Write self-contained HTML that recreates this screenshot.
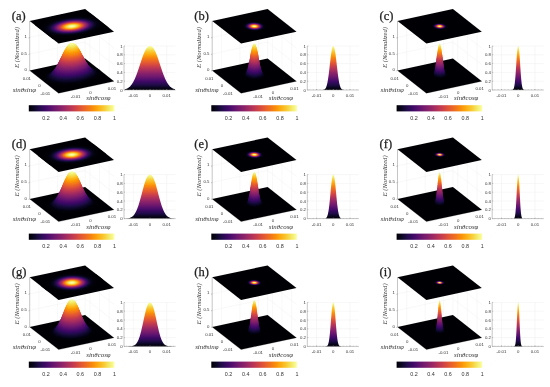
<!DOCTYPE html><html><head><meta charset="utf-8"><title>figure</title><style>html,body{margin:0;padding:0;background:#fff;}svg{display:block;}</style></head><body><svg width="550" height="387" viewBox="0 0 550 387"><defs><linearGradient id="cb" x1="0" y1="0" x2="1" y2="0"><stop offset="0" stop-color="#000004"/><stop offset="0.06" stop-color="#0b0724"/><stop offset="0.12" stop-color="#210c4a"/><stop offset="0.19" stop-color="#3d0965"/><stop offset="0.25" stop-color="#57106e"/><stop offset="0.31" stop-color="#71196e"/><stop offset="0.38" stop-color="#8a226a"/><stop offset="0.44" stop-color="#a32c61"/><stop offset="0.5" stop-color="#bc3754"/><stop offset="0.56" stop-color="#d24644"/><stop offset="0.62" stop-color="#e45a31"/><stop offset="0.69" stop-color="#f1731d"/><stop offset="0.75" stop-color="#f98e09"/><stop offset="0.81" stop-color="#fcac11"/><stop offset="0.88" stop-color="#f9cb35"/><stop offset="0.94" stop-color="#f2ea69"/><stop offset="1" stop-color="#fcffa4"/></linearGradient><clipPath id="usq00" clipPathUnits="userSpaceOnUse"><rect x="-62.5" y="-45.45" width="125" height="90.91"/></clipPath><clipPath id="usq01" clipPathUnits="userSpaceOnUse"><rect x="-43.48" y="-47.62" width="86.96" height="95.24"/></clipPath><clipPath id="usq02" clipPathUnits="userSpaceOnUse"><rect x="-41.67" y="-47.62" width="83.33" height="95.24"/></clipPath><clipPath id="usq10" clipPathUnits="userSpaceOnUse"><rect x="-55.56" y="-45.45" width="111.11" height="90.91"/></clipPath><clipPath id="usq11" clipPathUnits="userSpaceOnUse"><rect x="-43.48" y="-47.62" width="86.96" height="95.24"/></clipPath><clipPath id="usq12" clipPathUnits="userSpaceOnUse"><rect x="-41.67" y="-47.62" width="83.33" height="95.24"/></clipPath><clipPath id="usq20" clipPathUnits="userSpaceOnUse"><rect x="-50" y="-45.45" width="100" height="90.91"/></clipPath><clipPath id="usq21" clipPathUnits="userSpaceOnUse"><rect x="-43.48" y="-47.62" width="86.96" height="95.24"/></clipPath><clipPath id="usq22" clipPathUnits="userSpaceOnUse"><rect x="-41.67" y="-47.62" width="83.33" height="95.24"/></clipPath><radialGradient id="rg00" cx="0.5" cy="0.5" r="0.5"><stop offset="0" stop-color="#fcffa4"/><stop offset="0.04" stop-color="#f9fc9d"/><stop offset="0.08" stop-color="#f2f482"/><stop offset="0.12" stop-color="#f4dd4f"/><stop offset="0.17" stop-color="#fbba1f"/><stop offset="0.21" stop-color="#f98e09"/><stop offset="0.25" stop-color="#eb6429"/><stop offset="0.29" stop-color="#ce4347"/><stop offset="0.33" stop-color="#a82e5f"/><stop offset="0.38" stop-color="#82206c"/><stop offset="0.42" stop-color="#5f136e"/><stop offset="0.46" stop-color="#420a68"/><stop offset="0.5" stop-color="#280b53"/><stop offset="0.54" stop-color="#160b39"/><stop offset="0.58" stop-color="#0b0724"/><stop offset="0.62" stop-color="#050417"/><stop offset="0.67" stop-color="#02020e"/><stop offset="0.71" stop-color="#010108"/><stop offset="0.75" stop-color="#010106"/><stop offset="0.79" stop-color="#010005"/><stop offset="0.83" stop-color="#000004"/><stop offset="0.88" stop-color="#000004"/><stop offset="0.92" stop-color="#000004"/><stop offset="0.96" stop-color="#000004"/><stop offset="1" stop-color="#000004"/></radialGradient><clipPath id="ct00"><polygon points="29.7,20.93 58.6,43.58 114,31.63 85.1,8.98"/></clipPath><linearGradient id="g200" gradientUnits="userSpaceOnUse" x1="0" y1="90" x2="0" y2="46"><stop offset="0" stop-color="#000004"/><stop offset="0.06" stop-color="#0b0724"/><stop offset="0.12" stop-color="#210c4a"/><stop offset="0.19" stop-color="#3d0965"/><stop offset="0.25" stop-color="#57106e"/><stop offset="0.31" stop-color="#71196e"/><stop offset="0.38" stop-color="#8a226a"/><stop offset="0.44" stop-color="#a32c61"/><stop offset="0.5" stop-color="#bc3754"/><stop offset="0.56" stop-color="#d24644"/><stop offset="0.62" stop-color="#e45a31"/><stop offset="0.69" stop-color="#f1731d"/><stop offset="0.75" stop-color="#f98e09"/><stop offset="0.81" stop-color="#fcac11"/><stop offset="0.88" stop-color="#f9cb35"/><stop offset="0.94" stop-color="#f2ea69"/><stop offset="1" stop-color="#fcffa4"/></linearGradient><radialGradient id="rg01" cx="0.5" cy="0.5" r="0.5"><stop offset="0" stop-color="#fcffa4"/><stop offset="0.04" stop-color="#f9fc9d"/><stop offset="0.08" stop-color="#f2f482"/><stop offset="0.12" stop-color="#f4dd4f"/><stop offset="0.17" stop-color="#fbba1f"/><stop offset="0.21" stop-color="#f98e09"/><stop offset="0.25" stop-color="#eb6429"/><stop offset="0.29" stop-color="#ce4347"/><stop offset="0.33" stop-color="#a82e5f"/><stop offset="0.38" stop-color="#82206c"/><stop offset="0.42" stop-color="#5f136e"/><stop offset="0.46" stop-color="#420a68"/><stop offset="0.5" stop-color="#280b53"/><stop offset="0.54" stop-color="#160b39"/><stop offset="0.58" stop-color="#0b0724"/><stop offset="0.62" stop-color="#050417"/><stop offset="0.67" stop-color="#02020e"/><stop offset="0.71" stop-color="#010108"/><stop offset="0.75" stop-color="#010106"/><stop offset="0.79" stop-color="#010005"/><stop offset="0.83" stop-color="#000004"/><stop offset="0.88" stop-color="#000004"/><stop offset="0.92" stop-color="#000004"/><stop offset="0.96" stop-color="#000004"/><stop offset="1" stop-color="#000004"/></radialGradient><clipPath id="ct01"><polygon points="212.2,20.93 241.1,43.58 296.5,31.63 267.6,8.98"/></clipPath><linearGradient id="g201" gradientUnits="userSpaceOnUse" x1="0" y1="90" x2="0" y2="46"><stop offset="0" stop-color="#000004"/><stop offset="0.06" stop-color="#0b0724"/><stop offset="0.12" stop-color="#210c4a"/><stop offset="0.19" stop-color="#3d0965"/><stop offset="0.25" stop-color="#57106e"/><stop offset="0.31" stop-color="#71196e"/><stop offset="0.38" stop-color="#8a226a"/><stop offset="0.44" stop-color="#a32c61"/><stop offset="0.5" stop-color="#bc3754"/><stop offset="0.56" stop-color="#d24644"/><stop offset="0.62" stop-color="#e45a31"/><stop offset="0.69" stop-color="#f1731d"/><stop offset="0.75" stop-color="#f98e09"/><stop offset="0.81" stop-color="#fcac11"/><stop offset="0.88" stop-color="#f9cb35"/><stop offset="0.94" stop-color="#f2ea69"/><stop offset="1" stop-color="#fcffa4"/></linearGradient><radialGradient id="rg02" cx="0.5" cy="0.5" r="0.5"><stop offset="0" stop-color="#fcffa4"/><stop offset="0.04" stop-color="#f9fc9d"/><stop offset="0.08" stop-color="#f2f482"/><stop offset="0.12" stop-color="#f4dd4f"/><stop offset="0.17" stop-color="#fbba1f"/><stop offset="0.21" stop-color="#f98e09"/><stop offset="0.25" stop-color="#eb6429"/><stop offset="0.29" stop-color="#ce4347"/><stop offset="0.33" stop-color="#a82e5f"/><stop offset="0.38" stop-color="#82206c"/><stop offset="0.42" stop-color="#5f136e"/><stop offset="0.46" stop-color="#420a68"/><stop offset="0.5" stop-color="#280b53"/><stop offset="0.54" stop-color="#160b39"/><stop offset="0.58" stop-color="#0b0724"/><stop offset="0.62" stop-color="#050417"/><stop offset="0.67" stop-color="#02020e"/><stop offset="0.71" stop-color="#010108"/><stop offset="0.75" stop-color="#010106"/><stop offset="0.79" stop-color="#010005"/><stop offset="0.83" stop-color="#000004"/><stop offset="0.88" stop-color="#000004"/><stop offset="0.92" stop-color="#000004"/><stop offset="0.96" stop-color="#000004"/><stop offset="1" stop-color="#000004"/></radialGradient><clipPath id="ct02"><polygon points="397.5,20.93 426.4,43.58 481.8,31.63 452.9,8.98"/></clipPath><linearGradient id="g202" gradientUnits="userSpaceOnUse" x1="0" y1="90" x2="0" y2="46"><stop offset="0" stop-color="#000004"/><stop offset="0.06" stop-color="#0b0724"/><stop offset="0.12" stop-color="#210c4a"/><stop offset="0.19" stop-color="#3d0965"/><stop offset="0.25" stop-color="#57106e"/><stop offset="0.31" stop-color="#71196e"/><stop offset="0.38" stop-color="#8a226a"/><stop offset="0.44" stop-color="#a32c61"/><stop offset="0.5" stop-color="#bc3754"/><stop offset="0.56" stop-color="#d24644"/><stop offset="0.62" stop-color="#e45a31"/><stop offset="0.69" stop-color="#f1731d"/><stop offset="0.75" stop-color="#f98e09"/><stop offset="0.81" stop-color="#fcac11"/><stop offset="0.88" stop-color="#f9cb35"/><stop offset="0.94" stop-color="#f2ea69"/><stop offset="1" stop-color="#fcffa4"/></linearGradient><radialGradient id="rg10" cx="0.5" cy="0.5" r="0.5"><stop offset="0" stop-color="#fcffa4"/><stop offset="0.04" stop-color="#f9fc9d"/><stop offset="0.08" stop-color="#f2f482"/><stop offset="0.12" stop-color="#f4dd4f"/><stop offset="0.17" stop-color="#fbba1f"/><stop offset="0.21" stop-color="#f98e09"/><stop offset="0.25" stop-color="#eb6429"/><stop offset="0.29" stop-color="#ce4347"/><stop offset="0.33" stop-color="#a82e5f"/><stop offset="0.38" stop-color="#82206c"/><stop offset="0.42" stop-color="#5f136e"/><stop offset="0.46" stop-color="#420a68"/><stop offset="0.5" stop-color="#280b53"/><stop offset="0.54" stop-color="#160b39"/><stop offset="0.58" stop-color="#0b0724"/><stop offset="0.62" stop-color="#050417"/><stop offset="0.67" stop-color="#02020e"/><stop offset="0.71" stop-color="#010108"/><stop offset="0.75" stop-color="#010106"/><stop offset="0.79" stop-color="#010005"/><stop offset="0.83" stop-color="#000004"/><stop offset="0.88" stop-color="#000004"/><stop offset="0.92" stop-color="#000004"/><stop offset="0.96" stop-color="#000004"/><stop offset="1" stop-color="#000004"/></radialGradient><clipPath id="ct10"><polygon points="29.7,149.33 58.6,171.98 114,160.03 85.1,137.38"/></clipPath><linearGradient id="g210" gradientUnits="userSpaceOnUse" x1="0" y1="218.6" x2="0" y2="174.6"><stop offset="0" stop-color="#000004"/><stop offset="0.06" stop-color="#0b0724"/><stop offset="0.12" stop-color="#210c4a"/><stop offset="0.19" stop-color="#3d0965"/><stop offset="0.25" stop-color="#57106e"/><stop offset="0.31" stop-color="#71196e"/><stop offset="0.38" stop-color="#8a226a"/><stop offset="0.44" stop-color="#a32c61"/><stop offset="0.5" stop-color="#bc3754"/><stop offset="0.56" stop-color="#d24644"/><stop offset="0.62" stop-color="#e45a31"/><stop offset="0.69" stop-color="#f1731d"/><stop offset="0.75" stop-color="#f98e09"/><stop offset="0.81" stop-color="#fcac11"/><stop offset="0.88" stop-color="#f9cb35"/><stop offset="0.94" stop-color="#f2ea69"/><stop offset="1" stop-color="#fcffa4"/></linearGradient><radialGradient id="rg11" cx="0.5" cy="0.5" r="0.5"><stop offset="0" stop-color="#fcffa4"/><stop offset="0.04" stop-color="#f9fc9d"/><stop offset="0.08" stop-color="#f2f482"/><stop offset="0.12" stop-color="#f4dd4f"/><stop offset="0.17" stop-color="#fbba1f"/><stop offset="0.21" stop-color="#f98e09"/><stop offset="0.25" stop-color="#eb6429"/><stop offset="0.29" stop-color="#ce4347"/><stop offset="0.33" stop-color="#a82e5f"/><stop offset="0.38" stop-color="#82206c"/><stop offset="0.42" stop-color="#5f136e"/><stop offset="0.46" stop-color="#420a68"/><stop offset="0.5" stop-color="#280b53"/><stop offset="0.54" stop-color="#160b39"/><stop offset="0.58" stop-color="#0b0724"/><stop offset="0.62" stop-color="#050417"/><stop offset="0.67" stop-color="#02020e"/><stop offset="0.71" stop-color="#010108"/><stop offset="0.75" stop-color="#010106"/><stop offset="0.79" stop-color="#010005"/><stop offset="0.83" stop-color="#000004"/><stop offset="0.88" stop-color="#000004"/><stop offset="0.92" stop-color="#000004"/><stop offset="0.96" stop-color="#000004"/><stop offset="1" stop-color="#000004"/></radialGradient><clipPath id="ct11"><polygon points="212.2,149.33 241.1,171.98 296.5,160.03 267.6,137.38"/></clipPath><linearGradient id="g211" gradientUnits="userSpaceOnUse" x1="0" y1="218.6" x2="0" y2="174.6"><stop offset="0" stop-color="#000004"/><stop offset="0.06" stop-color="#0b0724"/><stop offset="0.12" stop-color="#210c4a"/><stop offset="0.19" stop-color="#3d0965"/><stop offset="0.25" stop-color="#57106e"/><stop offset="0.31" stop-color="#71196e"/><stop offset="0.38" stop-color="#8a226a"/><stop offset="0.44" stop-color="#a32c61"/><stop offset="0.5" stop-color="#bc3754"/><stop offset="0.56" stop-color="#d24644"/><stop offset="0.62" stop-color="#e45a31"/><stop offset="0.69" stop-color="#f1731d"/><stop offset="0.75" stop-color="#f98e09"/><stop offset="0.81" stop-color="#fcac11"/><stop offset="0.88" stop-color="#f9cb35"/><stop offset="0.94" stop-color="#f2ea69"/><stop offset="1" stop-color="#fcffa4"/></linearGradient><radialGradient id="rg12" cx="0.5" cy="0.5" r="0.5"><stop offset="0" stop-color="#fcffa4"/><stop offset="0.04" stop-color="#f9fc9d"/><stop offset="0.08" stop-color="#f2f482"/><stop offset="0.12" stop-color="#f4dd4f"/><stop offset="0.17" stop-color="#fbba1f"/><stop offset="0.21" stop-color="#f98e09"/><stop offset="0.25" stop-color="#eb6429"/><stop offset="0.29" stop-color="#ce4347"/><stop offset="0.33" stop-color="#a82e5f"/><stop offset="0.38" stop-color="#82206c"/><stop offset="0.42" stop-color="#5f136e"/><stop offset="0.46" stop-color="#420a68"/><stop offset="0.5" stop-color="#280b53"/><stop offset="0.54" stop-color="#160b39"/><stop offset="0.58" stop-color="#0b0724"/><stop offset="0.62" stop-color="#050417"/><stop offset="0.67" stop-color="#02020e"/><stop offset="0.71" stop-color="#010108"/><stop offset="0.75" stop-color="#010106"/><stop offset="0.79" stop-color="#010005"/><stop offset="0.83" stop-color="#000004"/><stop offset="0.88" stop-color="#000004"/><stop offset="0.92" stop-color="#000004"/><stop offset="0.96" stop-color="#000004"/><stop offset="1" stop-color="#000004"/></radialGradient><clipPath id="ct12"><polygon points="397.5,149.33 426.4,171.98 481.8,160.03 452.9,137.38"/></clipPath><linearGradient id="g212" gradientUnits="userSpaceOnUse" x1="0" y1="218.6" x2="0" y2="174.6"><stop offset="0" stop-color="#000004"/><stop offset="0.06" stop-color="#0b0724"/><stop offset="0.12" stop-color="#210c4a"/><stop offset="0.19" stop-color="#3d0965"/><stop offset="0.25" stop-color="#57106e"/><stop offset="0.31" stop-color="#71196e"/><stop offset="0.38" stop-color="#8a226a"/><stop offset="0.44" stop-color="#a32c61"/><stop offset="0.5" stop-color="#bc3754"/><stop offset="0.56" stop-color="#d24644"/><stop offset="0.62" stop-color="#e45a31"/><stop offset="0.69" stop-color="#f1731d"/><stop offset="0.75" stop-color="#f98e09"/><stop offset="0.81" stop-color="#fcac11"/><stop offset="0.88" stop-color="#f9cb35"/><stop offset="0.94" stop-color="#f2ea69"/><stop offset="1" stop-color="#fcffa4"/></linearGradient><radialGradient id="rg20" cx="0.5" cy="0.5" r="0.5"><stop offset="0" stop-color="#fcffa4"/><stop offset="0.04" stop-color="#f9fc9d"/><stop offset="0.08" stop-color="#f2f482"/><stop offset="0.12" stop-color="#f4dd4f"/><stop offset="0.17" stop-color="#fbba1f"/><stop offset="0.21" stop-color="#f98e09"/><stop offset="0.25" stop-color="#eb6429"/><stop offset="0.29" stop-color="#ce4347"/><stop offset="0.33" stop-color="#a82e5f"/><stop offset="0.38" stop-color="#82206c"/><stop offset="0.42" stop-color="#5f136e"/><stop offset="0.46" stop-color="#420a68"/><stop offset="0.5" stop-color="#280b53"/><stop offset="0.54" stop-color="#160b39"/><stop offset="0.58" stop-color="#0b0724"/><stop offset="0.62" stop-color="#050417"/><stop offset="0.67" stop-color="#02020e"/><stop offset="0.71" stop-color="#010108"/><stop offset="0.75" stop-color="#010106"/><stop offset="0.79" stop-color="#010005"/><stop offset="0.83" stop-color="#000004"/><stop offset="0.88" stop-color="#000004"/><stop offset="0.92" stop-color="#000004"/><stop offset="0.96" stop-color="#000004"/><stop offset="1" stop-color="#000004"/></radialGradient><clipPath id="ct20"><polygon points="29.7,277.33 58.6,299.98 114,288.03 85.1,265.38"/></clipPath><linearGradient id="g220" gradientUnits="userSpaceOnUse" x1="0" y1="346.4" x2="0" y2="302.4"><stop offset="0" stop-color="#000004"/><stop offset="0.06" stop-color="#0b0724"/><stop offset="0.12" stop-color="#210c4a"/><stop offset="0.19" stop-color="#3d0965"/><stop offset="0.25" stop-color="#57106e"/><stop offset="0.31" stop-color="#71196e"/><stop offset="0.38" stop-color="#8a226a"/><stop offset="0.44" stop-color="#a32c61"/><stop offset="0.5" stop-color="#bc3754"/><stop offset="0.56" stop-color="#d24644"/><stop offset="0.62" stop-color="#e45a31"/><stop offset="0.69" stop-color="#f1731d"/><stop offset="0.75" stop-color="#f98e09"/><stop offset="0.81" stop-color="#fcac11"/><stop offset="0.88" stop-color="#f9cb35"/><stop offset="0.94" stop-color="#f2ea69"/><stop offset="1" stop-color="#fcffa4"/></linearGradient><radialGradient id="rg21" cx="0.5" cy="0.5" r="0.5"><stop offset="0" stop-color="#fcffa4"/><stop offset="0.04" stop-color="#f9fc9d"/><stop offset="0.08" stop-color="#f2f482"/><stop offset="0.12" stop-color="#f4dd4f"/><stop offset="0.17" stop-color="#fbba1f"/><stop offset="0.21" stop-color="#f98e09"/><stop offset="0.25" stop-color="#eb6429"/><stop offset="0.29" stop-color="#ce4347"/><stop offset="0.33" stop-color="#a82e5f"/><stop offset="0.38" stop-color="#82206c"/><stop offset="0.42" stop-color="#5f136e"/><stop offset="0.46" stop-color="#420a68"/><stop offset="0.5" stop-color="#280b53"/><stop offset="0.54" stop-color="#160b39"/><stop offset="0.58" stop-color="#0b0724"/><stop offset="0.62" stop-color="#050417"/><stop offset="0.67" stop-color="#02020e"/><stop offset="0.71" stop-color="#010108"/><stop offset="0.75" stop-color="#010106"/><stop offset="0.79" stop-color="#010005"/><stop offset="0.83" stop-color="#000004"/><stop offset="0.88" stop-color="#000004"/><stop offset="0.92" stop-color="#000004"/><stop offset="0.96" stop-color="#000004"/><stop offset="1" stop-color="#000004"/></radialGradient><clipPath id="ct21"><polygon points="212.2,277.33 241.1,299.98 296.5,288.03 267.6,265.38"/></clipPath><linearGradient id="g221" gradientUnits="userSpaceOnUse" x1="0" y1="346.4" x2="0" y2="302.4"><stop offset="0" stop-color="#000004"/><stop offset="0.06" stop-color="#0b0724"/><stop offset="0.12" stop-color="#210c4a"/><stop offset="0.19" stop-color="#3d0965"/><stop offset="0.25" stop-color="#57106e"/><stop offset="0.31" stop-color="#71196e"/><stop offset="0.38" stop-color="#8a226a"/><stop offset="0.44" stop-color="#a32c61"/><stop offset="0.5" stop-color="#bc3754"/><stop offset="0.56" stop-color="#d24644"/><stop offset="0.62" stop-color="#e45a31"/><stop offset="0.69" stop-color="#f1731d"/><stop offset="0.75" stop-color="#f98e09"/><stop offset="0.81" stop-color="#fcac11"/><stop offset="0.88" stop-color="#f9cb35"/><stop offset="0.94" stop-color="#f2ea69"/><stop offset="1" stop-color="#fcffa4"/></linearGradient><radialGradient id="rg22" cx="0.5" cy="0.5" r="0.5"><stop offset="0" stop-color="#fcffa4"/><stop offset="0.04" stop-color="#f9fc9d"/><stop offset="0.08" stop-color="#f2f482"/><stop offset="0.12" stop-color="#f4dd4f"/><stop offset="0.17" stop-color="#fbba1f"/><stop offset="0.21" stop-color="#f98e09"/><stop offset="0.25" stop-color="#eb6429"/><stop offset="0.29" stop-color="#ce4347"/><stop offset="0.33" stop-color="#a82e5f"/><stop offset="0.38" stop-color="#82206c"/><stop offset="0.42" stop-color="#5f136e"/><stop offset="0.46" stop-color="#420a68"/><stop offset="0.5" stop-color="#280b53"/><stop offset="0.54" stop-color="#160b39"/><stop offset="0.58" stop-color="#0b0724"/><stop offset="0.62" stop-color="#050417"/><stop offset="0.67" stop-color="#02020e"/><stop offset="0.71" stop-color="#010108"/><stop offset="0.75" stop-color="#010106"/><stop offset="0.79" stop-color="#010005"/><stop offset="0.83" stop-color="#000004"/><stop offset="0.88" stop-color="#000004"/><stop offset="0.92" stop-color="#000004"/><stop offset="0.96" stop-color="#000004"/><stop offset="1" stop-color="#000004"/></radialGradient><clipPath id="ct22"><polygon points="397.5,277.33 426.4,299.98 481.8,288.03 452.9,265.38"/></clipPath><linearGradient id="g222" gradientUnits="userSpaceOnUse" x1="0" y1="346.4" x2="0" y2="302.4"><stop offset="0" stop-color="#000004"/><stop offset="0.06" stop-color="#0b0724"/><stop offset="0.12" stop-color="#210c4a"/><stop offset="0.19" stop-color="#3d0965"/><stop offset="0.25" stop-color="#57106e"/><stop offset="0.31" stop-color="#71196e"/><stop offset="0.38" stop-color="#8a226a"/><stop offset="0.44" stop-color="#a32c61"/><stop offset="0.5" stop-color="#bc3754"/><stop offset="0.56" stop-color="#d24644"/><stop offset="0.62" stop-color="#e45a31"/><stop offset="0.69" stop-color="#f1731d"/><stop offset="0.75" stop-color="#f98e09"/><stop offset="0.81" stop-color="#fcac11"/><stop offset="0.88" stop-color="#f9cb35"/><stop offset="0.94" stop-color="#f2ea69"/><stop offset="1" stop-color="#fcffa4"/></linearGradient></defs><rect width="550" height="387" fill="#fff"/><g><path d="M29.7,70.53L85.1,58.58M85.1,58.58L114,81.23M29.7,53.98L85.1,42.03M85.1,42.03L114,64.68M29.7,37.43L85.1,25.48M85.1,25.48L114,48.13M29.7,20.88L85.1,8.93M85.1,8.93L114,31.58M38.93,68.54L38.93,18.94M89.92,62.36L89.92,12.76M57.4,64.55L57.4,14.95M99.55,69.91L99.55,20.3M75.87,60.57L75.87,10.97M109.18,77.45L109.18,27.85M85.1,58.58L85.1,8.98" stroke="#f1f1f1" stroke-width="0.5" fill="none"/><path d="M29.7,20.93L29.7,70.53M29.7,70.53L58.6,93.18L114,81.23" stroke="#8a8a8a" stroke-width="0.5" fill="none"/><path d="M29.7,70.53L28.5,71.03M29.7,53.98L28.5,54.48M29.7,37.43L28.5,37.93" stroke="#8a8a8a" stroke-width="0.5" fill="none"/><polygon points="29.7,70.53 58.6,93.18 114,81.23 85.1,58.58" fill="#000004"/><g><circle r="45.31" transform="matrix(0.23 0.18 0.61 -0.13 71.85 75.59)" fill="#010106"/><circle r="40.17" transform="matrix(0.23 0.18 0.61 -0.13 71.85 75.01)" fill="#02020e"/><circle r="37.49" transform="matrix(0.23 0.18 0.61 -0.13 71.85 74.42)" fill="#060419"/><circle r="35.58" transform="matrix(0.23 0.18 0.61 -0.13 71.85 73.84)" fill="#0b0724"/><circle r="34.08" transform="matrix(0.23 0.18 0.61 -0.13 71.85 73.26)" fill="#10092d"/><circle r="32.82" transform="matrix(0.23 0.18 0.61 -0.13 71.85 72.68)" fill="#160b39"/><circle r="31.72" transform="matrix(0.23 0.18 0.61 -0.13 71.85 72.1)" fill="#1c0c43"/><circle r="30.75" transform="matrix(0.23 0.18 0.61 -0.13 71.85 71.51)" fill="#240c4f"/><circle r="29.86" transform="matrix(0.23 0.18 0.61 -0.13 71.85 70.93)" fill="#2b0b57"/><circle r="29.05" transform="matrix(0.23 0.18 0.61 -0.13 71.85 70.35)" fill="#340a5f"/><circle r="28.29" transform="matrix(0.23 0.18 0.61 -0.13 71.85 69.77)" fill="#3d0965"/><circle r="27.58" transform="matrix(0.23 0.18 0.61 -0.13 71.85 69.19)" fill="#440a68"/><circle r="26.91" transform="matrix(0.23 0.18 0.61 -0.13 71.85 68.6)" fill="#4c0c6b"/><circle r="26.27" transform="matrix(0.23 0.18 0.61 -0.13 71.85 68.02)" fill="#520e6d"/><circle r="25.67" transform="matrix(0.23 0.18 0.61 -0.13 71.85 67.44)" fill="#5a116e"/><circle r="25.08" transform="matrix(0.23 0.18 0.61 -0.13 71.85 66.86)" fill="#61136e"/><circle r="24.52" transform="matrix(0.23 0.18 0.61 -0.13 71.85 66.27)" fill="#69166e"/><circle r="23.98" transform="matrix(0.23 0.18 0.61 -0.13 71.85 65.69)" fill="#71196e"/><circle r="23.45" transform="matrix(0.23 0.18 0.61 -0.13 71.85 65.11)" fill="#771c6d"/><circle r="22.93" transform="matrix(0.23 0.18 0.61 -0.13 71.85 64.53)" fill="#7f1e6c"/><circle r="22.43" transform="matrix(0.23 0.18 0.61 -0.13 71.85 63.95)" fill="#85216b"/><circle r="21.94" transform="matrix(0.23 0.18 0.61 -0.13 71.85 63.36)" fill="#8d2369"/><circle r="21.46" transform="matrix(0.23 0.18 0.61 -0.13 71.85 62.78)" fill="#932667"/><circle r="20.99" transform="matrix(0.23 0.18 0.61 -0.13 71.85 62.2)" fill="#9b2964"/><circle r="20.53" transform="matrix(0.23 0.18 0.61 -0.13 71.85 61.62)" fill="#a32c61"/><circle r="20.07" transform="matrix(0.23 0.18 0.61 -0.13 71.85 61.04)" fill="#a92e5e"/><circle r="19.62" transform="matrix(0.23 0.18 0.61 -0.13 71.85 60.45)" fill="#b1325a"/><circle r="19.17" transform="matrix(0.23 0.18 0.61 -0.13 71.85 59.87)" fill="#b73557"/><circle r="18.73" transform="matrix(0.23 0.18 0.61 -0.13 71.85 59.29)" fill="#bf3952"/><circle r="18.29" transform="matrix(0.23 0.18 0.61 -0.13 71.85 58.71)" fill="#c43c4e"/><circle r="17.85" transform="matrix(0.23 0.18 0.61 -0.13 71.85 58.12)" fill="#cb4149"/><circle r="17.41" transform="matrix(0.23 0.18 0.61 -0.13 71.85 57.54)" fill="#d24644"/><circle r="16.97" transform="matrix(0.23 0.18 0.61 -0.13 71.85 56.96)" fill="#d74b3f"/><circle r="16.54" transform="matrix(0.23 0.18 0.61 -0.13 71.85 56.38)" fill="#dd513a"/><circle r="16.1" transform="matrix(0.23 0.18 0.61 -0.13 71.85 55.8)" fill="#e15635"/><circle r="15.66" transform="matrix(0.23 0.18 0.61 -0.13 71.85 55.21)" fill="#e65d2f"/><circle r="15.22" transform="matrix(0.23 0.18 0.61 -0.13 71.85 54.63)" fill="#ea632a"/><circle r="14.78" transform="matrix(0.23 0.18 0.61 -0.13 71.85 54.05)" fill="#ee6a24"/><circle r="14.33" transform="matrix(0.23 0.18 0.61 -0.13 71.85 53.47)" fill="#f1731d"/><circle r="13.87" transform="matrix(0.23 0.18 0.61 -0.13 71.85 52.89)" fill="#f47918"/><circle r="13.41" transform="matrix(0.23 0.18 0.61 -0.13 71.85 52.3)" fill="#f78212"/><circle r="12.94" transform="matrix(0.23 0.18 0.61 -0.13 71.85 51.72)" fill="#f8890c"/><circle r="12.47" transform="matrix(0.23 0.18 0.61 -0.13 71.85 51.14)" fill="#fa9207"/><circle r="11.98" transform="matrix(0.23 0.18 0.61 -0.13 71.85 50.56)" fill="#fb9906"/><circle r="11.47" transform="matrix(0.23 0.18 0.61 -0.13 71.85 49.97)" fill="#fca309"/><circle r="10.96" transform="matrix(0.23 0.18 0.61 -0.13 71.85 49.39)" fill="#fcac11"/><circle r="10.42" transform="matrix(0.23 0.18 0.61 -0.13 71.85 48.81)" fill="#fcb418"/><circle r="9.86" transform="matrix(0.23 0.18 0.61 -0.13 71.85 48.23)" fill="#fbbe23"/><circle r="9.27" transform="matrix(0.23 0.18 0.61 -0.13 71.85 47.65)" fill="#fac62d"/><circle r="8.65" transform="matrix(0.23 0.18 0.61 -0.13 71.85 47.06)" fill="#f8cf3a"/><circle r="7.98" transform="matrix(0.23 0.18 0.61 -0.13 71.85 46.48)" fill="#f6d746"/><circle r="7.25" transform="matrix(0.23 0.18 0.61 -0.13 71.85 45.9)" fill="#f4e156"/><circle r="6.44" transform="matrix(0.23 0.18 0.61 -0.13 71.85 45.32)" fill="#f2ea69"/><circle r="5.5" transform="matrix(0.23 0.18 0.61 -0.13 71.85 44.74)" fill="#f1f179"/><circle r="4.35" transform="matrix(0.23 0.18 0.61 -0.13 71.85 44.15)" fill="#f4f88e"/><circle r="2.63" transform="matrix(0.23 0.18 0.61 -0.13 71.85 43.57)" fill="#f9fc9d"/></g><polygon points="29.7,20.93 58.6,43.58 114,31.63 85.1,8.98" fill="#000004"/><g clip-path="url(#ct00)"><circle r="60.59" transform="matrix(0.23 0.18 0.61 -0.13 71.85 26.28)" fill="url(#rg00)"/></g><text x="27" y="71.13" font-size="4.3" font-family='"Liberation Sans", sans-serif' text-anchor="end" fill="#333">0</text><text x="27" y="54.58" font-size="4.3" font-family='"Liberation Sans", sans-serif' text-anchor="end" fill="#333">0.5</text><text x="27" y="38.03" font-size="4.3" font-family='"Liberation Sans", sans-serif' text-anchor="end" fill="#333">1</text><text x="31.02" y="79.5" font-size="4.3" font-family='"Liberation Sans", sans-serif' text-anchor="end" fill="#333">0.01</text><text x="40.65" y="87.05" font-size="4.3" font-family='"Liberation Sans", sans-serif' text-anchor="end" fill="#333">0</text><text x="50.28" y="94.6" font-size="4.3" font-family='"Liberation Sans", sans-serif' text-anchor="end" fill="#333">-0.01</text><text x="70.73" y="97.79" font-size="4.3" font-family='"Liberation Sans", sans-serif' text-anchor="start" fill="#333">-0.01</text><text x="89.2" y="93.8" font-size="4.3" font-family='"Liberation Sans", sans-serif' text-anchor="start" fill="#333">0</text><text x="107.67" y="89.82" font-size="4.3" font-family='"Liberation Sans", sans-serif' text-anchor="start" fill="#333">0.01</text><text x="12.7" y="92.3" font-size="5.6" font-family='"Liberation Serif", serif' text-anchor="start" fill="#333" font-style="italic" textLength="23.3" lengthAdjust="spacingAndGlyphs">sinθsinφ</text><text x="86.3" y="100.2" font-size="5.6" font-family='"Liberation Serif", serif' text-anchor="start" fill="#333" font-style="italic" textLength="24.3" lengthAdjust="spacingAndGlyphs">sinθcosφ</text><text transform="translate(18.8 47.5) rotate(-90)" font-size="6.2" font-family='"Liberation Serif", serif' font-style="italic" text-anchor="middle" textLength="41" lengthAdjust="spacingAndGlyphs" fill="#444">E (Normalized)</text><text x="11.8" y="19.8" font-size="12.5" font-family='"Liberation Serif", serif' text-anchor="start" fill="#222" stroke="#222" stroke-width="0.25">(a)</text><rect x="28.8" y="105.2" width="85.6" height="6.2" fill="url(#cb)"/><text x="46.1" y="119.5" font-size="5.4" font-family='"Liberation Sans", sans-serif' text-anchor="middle" fill="#333">0.2</text><text x="63.2" y="119.5" font-size="5.4" font-family='"Liberation Sans", sans-serif' text-anchor="middle" fill="#333">0.4</text><text x="80.3" y="119.5" font-size="5.4" font-family='"Liberation Sans", sans-serif' text-anchor="middle" fill="#333">0.6</text><text x="97.4" y="119.5" font-size="5.4" font-family='"Liberation Sans", sans-serif' text-anchor="middle" fill="#333">0.8</text><text x="114.5" y="119.5" font-size="5.4" font-family='"Liberation Sans", sans-serif' text-anchor="middle" fill="#333">1</text><path d="M133.3,90L133.3,46M150,90L150,46M166.7,90L166.7,46M124,81.2L175.6,81.2M124,72.4L175.6,72.4M124,63.6L175.6,63.6M124,54.8L175.6,54.8M124,46L175.6,46" stroke="#efefef" stroke-width="0.5" fill="none"/><path d="M125,90L125,89.27L125.25,89.2L125.5,89.13L125.75,89.05L126,88.96L126.25,88.87L126.5,88.77L126.75,88.66L127,88.55L127.25,88.43L127.5,88.29L127.75,88.15L128,88.01L128.25,87.85L128.5,87.68L128.75,87.5L129,87.3L129.25,87.1L129.5,86.89L129.75,86.66L130,86.42L130.25,86.16L130.5,85.9L130.75,85.62L131,85.32L131.25,85.01L131.5,84.68L131.75,84.34L132,83.98L132.25,83.61L132.5,83.22L132.75,82.81L133,82.39L133.25,81.95L133.5,81.49L133.75,81.01L134,80.52L134.25,80.01L134.5,79.49L134.75,78.95L135,78.39L135.25,77.81L135.5,77.22L135.75,76.61L136,75.99L136.25,75.35L136.5,74.7L136.75,74.04L137,73.36L137.25,72.67L137.5,71.97L137.75,71.25L138,70.53L138.25,69.8L138.5,69.06L138.75,68.31L139,67.56L139.25,66.8L139.5,66.04L139.75,65.28L140,64.51L140.25,63.75L140.5,62.98L140.75,62.22L141,61.46L141.25,60.71L141.5,59.96L141.75,59.23L142,58.5L142.25,57.78L142.5,57.07L142.75,56.38L143,55.7L143.25,55.04L143.5,54.39L143.75,53.76L144,53.15L144.25,52.57L144.5,52L144.75,51.45L145,50.93L145.25,50.43L145.5,49.96L145.75,49.51L146,49.09L146.25,48.69L146.5,48.32L146.75,47.98L147,47.67L147.25,47.38L147.5,47.12L147.75,46.89L148,46.69L148.25,46.52L148.5,46.37L148.75,46.25L149,46.15L149.25,46.08L149.5,46.03L149.75,46.01L150,46L150.25,46.01L150.5,46.03L150.75,46.08L151,46.15L151.25,46.25L151.5,46.37L151.75,46.52L152,46.69L152.25,46.89L152.5,47.12L152.75,47.38L153,47.67L153.25,47.98L153.5,48.32L153.75,48.69L154,49.09L154.25,49.51L154.5,49.96L154.75,50.43L155,50.93L155.25,51.45L155.5,52L155.75,52.57L156,53.15L156.25,53.76L156.5,54.39L156.75,55.04L157,55.7L157.25,56.38L157.5,57.07L157.75,57.78L158,58.5L158.25,59.23L158.5,59.96L158.75,60.71L159,61.46L159.25,62.22L159.5,62.98L159.75,63.75L160,64.51L160.25,65.28L160.5,66.04L160.75,66.8L161,67.56L161.25,68.31L161.5,69.06L161.75,69.8L162,70.53L162.25,71.25L162.5,71.97L162.75,72.67L163,73.36L163.25,74.04L163.5,74.7L163.75,75.35L164,75.99L164.25,76.61L164.5,77.22L164.75,77.81L165,78.39L165.25,78.95L165.5,79.49L165.75,80.01L166,80.52L166.25,81.01L166.5,81.49L166.75,81.95L167,82.39L167.25,82.81L167.5,83.22L167.75,83.61L168,83.98L168.25,84.34L168.5,84.68L168.75,85.01L169,85.32L169.25,85.62L169.5,85.9L169.75,86.16L170,86.42L170.25,86.66L170.5,86.89L170.75,87.1L171,87.3L171.25,87.5L171.5,87.68L171.75,87.85L172,88.01L172.25,88.15L172.5,88.29L172.75,88.43L173,88.55L173.25,88.66L173.5,88.77L173.75,88.87L174,88.96L174.25,89.05L174.5,89.13L174.75,89.2L175,89.27L175,90Z" fill="url(#g200)"/><path d="M124,46L124,90L175.6,90M124,90L125,90M124,81.2L125,81.2M124,72.4L125,72.4M124,63.6L125,63.6M124,54.8L125,54.8M124,46L125,46M133.3,90L133.3,89M150,90L150,89M166.7,90L166.7,89M126.62,90L126.62,89.4M129.96,90L129.96,89.4M133.3,90L133.3,89.4M136.64,90L136.64,89.4M139.98,90L139.98,89.4M143.32,90L143.32,89.4M146.66,90L146.66,89.4M150,90L150,89.4M153.34,90L153.34,89.4M156.68,90L156.68,89.4M160.02,90L160.02,89.4M163.36,90L163.36,89.4M166.7,90L166.7,89.4M170.04,90L170.04,89.4M173.38,90L173.38,89.4" stroke="#8c8c8c" stroke-width="0.5" fill="none"/><text x="122.7" y="91.6" font-size="4.3" font-family='"Liberation Sans", sans-serif' text-anchor="end" fill="#333">0</text><text x="122.7" y="82.8" font-size="4.3" font-family='"Liberation Sans", sans-serif' text-anchor="end" fill="#333">0.2</text><text x="122.7" y="74" font-size="4.3" font-family='"Liberation Sans", sans-serif' text-anchor="end" fill="#333">0.4</text><text x="122.7" y="65.2" font-size="4.3" font-family='"Liberation Sans", sans-serif' text-anchor="end" fill="#333">0.6</text><text x="122.7" y="56.4" font-size="4.3" font-family='"Liberation Sans", sans-serif' text-anchor="end" fill="#333">0.8</text><text x="122.7" y="47.6" font-size="4.3" font-family='"Liberation Sans", sans-serif' text-anchor="end" fill="#333">1</text><text x="133.3" y="97" font-size="4.3" font-family='"Liberation Sans", sans-serif' text-anchor="middle" fill="#333">-0.01</text><text x="150" y="97" font-size="4.3" font-family='"Liberation Sans", sans-serif' text-anchor="middle" fill="#333">0</text><text x="166.7" y="97" font-size="4.3" font-family='"Liberation Sans", sans-serif' text-anchor="middle" fill="#333">0.01</text></g><g><path d="M212.2,70.53L267.6,58.58M267.6,58.58L296.5,81.23M212.2,53.98L267.6,42.03M267.6,42.03L296.5,64.68M212.2,37.43L267.6,25.48M267.6,25.48L296.5,48.13M212.2,20.88L267.6,8.93M267.6,8.93L296.5,31.58M221.43,68.54L221.43,18.94M272.42,62.36L272.42,12.76M239.9,64.55L239.9,14.95M282.05,69.91L282.05,20.3M258.37,60.57L258.37,10.97M291.68,77.45L291.68,27.85M267.6,58.58L267.6,8.98" stroke="#f1f1f1" stroke-width="0.5" fill="none"/><path d="M212.2,20.93L212.2,70.53M212.2,70.53L241.1,93.18L296.5,81.23" stroke="#8a8a8a" stroke-width="0.5" fill="none"/><path d="M212.2,70.53L211,71.03M212.2,53.98L211,54.48M212.2,37.43L211,37.93" stroke="#8a8a8a" stroke-width="0.5" fill="none"/><polygon points="212.2,70.53 241.1,93.18 296.5,81.23 267.6,58.58" fill="#000004"/><g><circle r="16.84" transform="matrix(0.33 0.26 0.58 -0.13 254.35 75.59)" fill="#010106"/><circle r="14.93" transform="matrix(0.33 0.26 0.58 -0.13 254.35 75.01)" fill="#02020e"/><circle r="13.93" transform="matrix(0.33 0.26 0.58 -0.13 254.35 74.42)" fill="#060419"/><circle r="13.23" transform="matrix(0.33 0.26 0.58 -0.13 254.35 73.84)" fill="#0b0724"/><circle r="12.67" transform="matrix(0.33 0.26 0.58 -0.13 254.35 73.26)" fill="#10092d"/><circle r="12.2" transform="matrix(0.33 0.26 0.58 -0.13 254.35 72.68)" fill="#160b39"/><circle r="11.79" transform="matrix(0.33 0.26 0.58 -0.13 254.35 72.1)" fill="#1c0c43"/><circle r="11.43" transform="matrix(0.33 0.26 0.58 -0.13 254.35 71.51)" fill="#240c4f"/><circle r="11.1" transform="matrix(0.33 0.26 0.58 -0.13 254.35 70.93)" fill="#2b0b57"/><circle r="10.8" transform="matrix(0.33 0.26 0.58 -0.13 254.35 70.35)" fill="#340a5f"/><circle r="10.52" transform="matrix(0.33 0.26 0.58 -0.13 254.35 69.77)" fill="#3d0965"/><circle r="10.25" transform="matrix(0.33 0.26 0.58 -0.13 254.35 69.19)" fill="#440a68"/><circle r="10" transform="matrix(0.33 0.26 0.58 -0.13 254.35 68.6)" fill="#4c0c6b"/><circle r="9.77" transform="matrix(0.33 0.26 0.58 -0.13 254.35 68.02)" fill="#520e6d"/><circle r="9.54" transform="matrix(0.33 0.26 0.58 -0.13 254.35 67.44)" fill="#5a116e"/><circle r="9.32" transform="matrix(0.33 0.26 0.58 -0.13 254.35 66.86)" fill="#61136e"/><circle r="9.11" transform="matrix(0.33 0.26 0.58 -0.13 254.35 66.27)" fill="#69166e"/><circle r="8.91" transform="matrix(0.33 0.26 0.58 -0.13 254.35 65.69)" fill="#71196e"/><circle r="8.72" transform="matrix(0.33 0.26 0.58 -0.13 254.35 65.11)" fill="#771c6d"/><circle r="8.53" transform="matrix(0.33 0.26 0.58 -0.13 254.35 64.53)" fill="#7f1e6c"/><circle r="8.34" transform="matrix(0.33 0.26 0.58 -0.13 254.35 63.95)" fill="#85216b"/><circle r="8.16" transform="matrix(0.33 0.26 0.58 -0.13 254.35 63.36)" fill="#8d2369"/><circle r="7.98" transform="matrix(0.33 0.26 0.58 -0.13 254.35 62.78)" fill="#932667"/><circle r="7.8" transform="matrix(0.33 0.26 0.58 -0.13 254.35 62.2)" fill="#9b2964"/><circle r="7.63" transform="matrix(0.33 0.26 0.58 -0.13 254.35 61.62)" fill="#a32c61"/><circle r="7.46" transform="matrix(0.33 0.26 0.58 -0.13 254.35 61.04)" fill="#a92e5e"/><circle r="7.29" transform="matrix(0.33 0.26 0.58 -0.13 254.35 60.45)" fill="#b1325a"/><circle r="7.13" transform="matrix(0.33 0.26 0.58 -0.13 254.35 59.87)" fill="#b73557"/><circle r="6.96" transform="matrix(0.33 0.26 0.58 -0.13 254.35 59.29)" fill="#bf3952"/><circle r="6.8" transform="matrix(0.33 0.26 0.58 -0.13 254.35 58.71)" fill="#c43c4e"/><circle r="6.63" transform="matrix(0.33 0.26 0.58 -0.13 254.35 58.12)" fill="#cb4149"/><circle r="6.47" transform="matrix(0.33 0.26 0.58 -0.13 254.35 57.54)" fill="#d24644"/><circle r="6.31" transform="matrix(0.33 0.26 0.58 -0.13 254.35 56.96)" fill="#d74b3f"/><circle r="6.15" transform="matrix(0.33 0.26 0.58 -0.13 254.35 56.38)" fill="#dd513a"/><circle r="5.98" transform="matrix(0.33 0.26 0.58 -0.13 254.35 55.8)" fill="#e15635"/><circle r="5.82" transform="matrix(0.33 0.26 0.58 -0.13 254.35 55.21)" fill="#e65d2f"/><circle r="5.66" transform="matrix(0.33 0.26 0.58 -0.13 254.35 54.63)" fill="#ea632a"/><circle r="5.49" transform="matrix(0.33 0.26 0.58 -0.13 254.35 54.05)" fill="#ee6a24"/><circle r="5.33" transform="matrix(0.33 0.26 0.58 -0.13 254.35 53.47)" fill="#f1731d"/><circle r="5.16" transform="matrix(0.33 0.26 0.58 -0.13 254.35 52.89)" fill="#f47918"/><circle r="4.99" transform="matrix(0.33 0.26 0.58 -0.13 254.35 52.3)" fill="#f78212"/><circle r="4.81" transform="matrix(0.33 0.26 0.58 -0.13 254.35 51.72)" fill="#f8890c"/><circle r="4.63" transform="matrix(0.33 0.26 0.58 -0.13 254.35 51.14)" fill="#fa9207"/><circle r="4.45" transform="matrix(0.33 0.26 0.58 -0.13 254.35 50.56)" fill="#fb9906"/><circle r="4.26" transform="matrix(0.33 0.26 0.58 -0.13 254.35 49.97)" fill="#fca309"/><circle r="4.07" transform="matrix(0.33 0.26 0.58 -0.13 254.35 49.39)" fill="#fcac11"/><circle r="3.87" transform="matrix(0.33 0.26 0.58 -0.13 254.35 48.81)" fill="#fcb418"/><circle r="3.66" transform="matrix(0.33 0.26 0.58 -0.13 254.35 48.23)" fill="#fbbe23"/><circle r="3.45" transform="matrix(0.33 0.26 0.58 -0.13 254.35 47.65)" fill="#fac62d"/><circle r="3.21" transform="matrix(0.33 0.26 0.58 -0.13 254.35 47.06)" fill="#f8cf3a"/><circle r="2.97" transform="matrix(0.33 0.26 0.58 -0.13 254.35 46.48)" fill="#f6d746"/><circle r="2.7" transform="matrix(0.33 0.26 0.58 -0.13 254.35 45.9)" fill="#f4e156"/><circle r="2.39" transform="matrix(0.33 0.26 0.58 -0.13 254.35 45.32)" fill="#f2ea69"/><circle r="2.05" transform="matrix(0.33 0.26 0.58 -0.13 254.35 44.74)" fill="#f1f179"/><circle r="1.62" transform="matrix(0.33 0.26 0.58 -0.13 254.35 44.15)" fill="#f4f88e"/><circle r="0.98" transform="matrix(0.33 0.26 0.58 -0.13 254.35 43.57)" fill="#f9fc9d"/></g><polygon points="212.2,20.93 241.1,43.58 296.5,31.63 267.6,8.98" fill="#000004"/><g clip-path="url(#ct01)"><circle r="22.52" transform="matrix(0.33 0.26 0.58 -0.13 254.35 26.28)" fill="url(#rg01)"/></g><text x="209.5" y="71.13" font-size="4.3" font-family='"Liberation Sans", sans-serif' text-anchor="end" fill="#333">0</text><text x="209.5" y="54.58" font-size="4.3" font-family='"Liberation Sans", sans-serif' text-anchor="end" fill="#333">0.5</text><text x="209.5" y="38.03" font-size="4.3" font-family='"Liberation Sans", sans-serif' text-anchor="end" fill="#333">1</text><text x="213.52" y="79.5" font-size="4.3" font-family='"Liberation Sans", sans-serif' text-anchor="end" fill="#333">0.01</text><text x="223.15" y="87.05" font-size="4.3" font-family='"Liberation Sans", sans-serif' text-anchor="end" fill="#333">0</text><text x="232.78" y="94.6" font-size="4.3" font-family='"Liberation Sans", sans-serif' text-anchor="end" fill="#333">-0.01</text><text x="253.23" y="97.79" font-size="4.3" font-family='"Liberation Sans", sans-serif' text-anchor="start" fill="#333">-0.01</text><text x="271.7" y="93.8" font-size="4.3" font-family='"Liberation Sans", sans-serif' text-anchor="start" fill="#333">0</text><text x="290.17" y="89.82" font-size="4.3" font-family='"Liberation Sans", sans-serif' text-anchor="start" fill="#333">0.01</text><text x="195.2" y="92.3" font-size="5.6" font-family='"Liberation Serif", serif' text-anchor="start" fill="#333" font-style="italic" textLength="23.3" lengthAdjust="spacingAndGlyphs">sinθsinφ</text><text x="268.8" y="100.2" font-size="5.6" font-family='"Liberation Serif", serif' text-anchor="start" fill="#333" font-style="italic" textLength="24.3" lengthAdjust="spacingAndGlyphs">sinθcosφ</text><text transform="translate(201.3 47.5) rotate(-90)" font-size="6.2" font-family='"Liberation Serif", serif' font-style="italic" text-anchor="middle" textLength="41" lengthAdjust="spacingAndGlyphs" fill="#444">E (Normalized)</text><text x="194.3" y="19.8" font-size="12.5" font-family='"Liberation Serif", serif' text-anchor="start" fill="#222" stroke="#222" stroke-width="0.25">(b)</text><rect x="211.3" y="105.2" width="85.6" height="6.2" fill="url(#cb)"/><text x="228.6" y="119.5" font-size="5.4" font-family='"Liberation Sans", sans-serif' text-anchor="middle" fill="#333">0.2</text><text x="245.7" y="119.5" font-size="5.4" font-family='"Liberation Sans", sans-serif' text-anchor="middle" fill="#333">0.4</text><text x="262.8" y="119.5" font-size="5.4" font-family='"Liberation Sans", sans-serif' text-anchor="middle" fill="#333">0.6</text><text x="279.9" y="119.5" font-size="5.4" font-family='"Liberation Sans", sans-serif' text-anchor="middle" fill="#333">0.8</text><text x="297" y="119.5" font-size="5.4" font-family='"Liberation Sans", sans-serif' text-anchor="middle" fill="#333">1</text><path d="M316.6,90L316.6,46M333.3,90L333.3,46M350,90L350,46M307.3,81.2L358.9,81.2M307.3,72.4L358.9,72.4M307.3,63.6L358.9,63.6M307.3,54.8L358.9,54.8M307.3,46L358.9,46" stroke="#efefef" stroke-width="0.5" fill="none"/><path d="M308.3,90L308.3,90L308.55,90L308.8,90L309.05,90L309.3,90L309.55,90L309.8,90L310.05,90L310.3,90L310.55,90L310.8,90L311.05,90L311.3,90L311.55,90L311.8,90L312.05,90L312.3,90L312.55,90L312.8,90L313.05,90L313.3,90L313.55,90L313.8,90L314.05,90L314.3,90L314.55,90L314.8,90L315.05,90L315.3,90L315.55,90L315.8,90L316.05,90L316.3,90L316.55,90L316.8,90L317.05,90L317.3,90L317.55,90L317.8,90L318.05,90L318.3,90L318.55,90L318.8,90L319.05,90L319.3,90L319.55,90L319.8,90L320.05,90L320.3,90L320.55,90L320.8,90L321.05,89.99L321.3,89.99L321.55,89.99L321.8,89.98L322.05,89.97L322.3,89.96L322.55,89.95L322.8,89.93L323.05,89.9L323.3,89.86L323.55,89.81L323.8,89.74L324.05,89.65L324.3,89.53L324.55,89.39L324.8,89.2L325.05,88.97L325.3,88.68L325.55,88.33L325.8,87.9L326.05,87.39L326.3,86.78L326.55,86.06L326.8,85.23L327.05,84.27L327.3,83.17L327.55,81.93L327.8,80.55L328.05,79.03L328.3,77.36L328.55,75.56L328.8,73.64L329.05,71.61L329.3,69.49L329.55,67.31L329.8,65.1L330.05,62.87L330.3,60.67L330.55,58.52L330.8,56.46L331.05,54.52L331.3,52.74L331.55,51.13L331.8,49.72L332.05,48.52L332.3,47.56L332.55,46.84L332.8,46.34L333.05,46.08L333.3,46L333.55,46.08L333.8,46.34L334.05,46.84L334.3,47.56L334.55,48.52L334.8,49.72L335.05,51.13L335.3,52.74L335.55,54.52L335.8,56.46L336.05,58.52L336.3,60.67L336.55,62.87L336.8,65.1L337.05,67.31L337.3,69.49L337.55,71.61L337.8,73.64L338.05,75.56L338.3,77.36L338.55,79.03L338.8,80.55L339.05,81.93L339.3,83.17L339.55,84.27L339.8,85.23L340.05,86.06L340.3,86.78L340.55,87.39L340.8,87.9L341.05,88.33L341.3,88.68L341.55,88.97L341.8,89.2L342.05,89.39L342.3,89.53L342.55,89.65L342.8,89.74L343.05,89.81L343.3,89.86L343.55,89.9L343.8,89.93L344.05,89.95L344.3,89.96L344.55,89.97L344.8,89.98L345.05,89.99L345.3,89.99L345.55,89.99L345.8,90L346.05,90L346.3,90L346.55,90L346.8,90L347.05,90L347.3,90L347.55,90L347.8,90L348.05,90L348.3,90L348.55,90L348.8,90L349.05,90L349.3,90L349.55,90L349.8,90L350.05,90L350.3,90L350.55,90L350.8,90L351.05,90L351.3,90L351.55,90L351.8,90L352.05,90L352.3,90L352.55,90L352.8,90L353.05,90L353.3,90L353.55,90L353.8,90L354.05,90L354.3,90L354.55,90L354.8,90L355.05,90L355.3,90L355.55,90L355.8,90L356.05,90L356.3,90L356.55,90L356.8,90L357.05,90L357.3,90L357.55,90L357.8,90L358.05,90L358.3,90L358.3,90Z" fill="url(#g201)"/><path d="M307.3,46L307.3,90L358.9,90M307.3,90L308.3,90M307.3,81.2L308.3,81.2M307.3,72.4L308.3,72.4M307.3,63.6L308.3,63.6M307.3,54.8L308.3,54.8M307.3,46L308.3,46M316.6,90L316.6,89M333.3,90L333.3,89M350,90L350,89M309.92,90L309.92,89.4M313.26,90L313.26,89.4M316.6,90L316.6,89.4M319.94,90L319.94,89.4M323.28,90L323.28,89.4M326.62,90L326.62,89.4M329.96,90L329.96,89.4M333.3,90L333.3,89.4M336.64,90L336.64,89.4M339.98,90L339.98,89.4M343.32,90L343.32,89.4M346.66,90L346.66,89.4M350,90L350,89.4M353.34,90L353.34,89.4M356.68,90L356.68,89.4" stroke="#8c8c8c" stroke-width="0.5" fill="none"/><text x="306" y="91.6" font-size="4.3" font-family='"Liberation Sans", sans-serif' text-anchor="end" fill="#333">0</text><text x="306" y="82.8" font-size="4.3" font-family='"Liberation Sans", sans-serif' text-anchor="end" fill="#333">0.2</text><text x="306" y="74" font-size="4.3" font-family='"Liberation Sans", sans-serif' text-anchor="end" fill="#333">0.4</text><text x="306" y="65.2" font-size="4.3" font-family='"Liberation Sans", sans-serif' text-anchor="end" fill="#333">0.6</text><text x="306" y="56.4" font-size="4.3" font-family='"Liberation Sans", sans-serif' text-anchor="end" fill="#333">0.8</text><text x="306" y="47.6" font-size="4.3" font-family='"Liberation Sans", sans-serif' text-anchor="end" fill="#333">1</text><text x="316.6" y="97" font-size="4.3" font-family='"Liberation Sans", sans-serif' text-anchor="middle" fill="#333">-0.01</text><text x="333.3" y="97" font-size="4.3" font-family='"Liberation Sans", sans-serif' text-anchor="middle" fill="#333">0</text><text x="350" y="97" font-size="4.3" font-family='"Liberation Sans", sans-serif' text-anchor="middle" fill="#333">0.01</text></g><g><path d="M397.5,70.53L452.9,58.58M452.9,58.58L481.8,81.23M397.5,53.98L452.9,42.03M452.9,42.03L481.8,64.68M397.5,37.43L452.9,25.48M452.9,25.48L481.8,48.13M397.5,20.88L452.9,8.93M452.9,8.93L481.8,31.58M406.73,68.54L406.73,18.94M457.72,62.36L457.72,12.76M425.2,64.55L425.2,14.95M467.35,69.91L467.35,20.3M443.67,60.57L443.67,10.97M476.98,77.45L476.98,27.85M452.9,58.58L452.9,8.98" stroke="#f1f1f1" stroke-width="0.5" fill="none"/><path d="M397.5,20.93L397.5,70.53M397.5,70.53L426.4,93.18L481.8,81.23" stroke="#8a8a8a" stroke-width="0.5" fill="none"/><path d="M397.5,70.53L396.3,71.03M397.5,53.98L396.3,54.48M397.5,37.43L396.3,37.93" stroke="#8a8a8a" stroke-width="0.5" fill="none"/><polygon points="397.5,70.53 426.4,93.18 481.8,81.23 452.9,58.58" fill="#000004"/><g><circle r="11.34" transform="matrix(0.35 0.27 0.58 -0.13 439.65 75.59)" fill="#010106"/><circle r="10.05" transform="matrix(0.35 0.27 0.58 -0.13 439.65 75.01)" fill="#02020e"/><circle r="9.38" transform="matrix(0.35 0.27 0.58 -0.13 439.65 74.42)" fill="#060419"/><circle r="8.91" transform="matrix(0.35 0.27 0.58 -0.13 439.65 73.84)" fill="#0b0724"/><circle r="8.53" transform="matrix(0.35 0.27 0.58 -0.13 439.65 73.26)" fill="#10092d"/><circle r="8.21" transform="matrix(0.35 0.27 0.58 -0.13 439.65 72.68)" fill="#160b39"/><circle r="7.94" transform="matrix(0.35 0.27 0.58 -0.13 439.65 72.1)" fill="#1c0c43"/><circle r="7.69" transform="matrix(0.35 0.27 0.58 -0.13 439.65 71.51)" fill="#240c4f"/><circle r="7.47" transform="matrix(0.35 0.27 0.58 -0.13 439.65 70.93)" fill="#2b0b57"/><circle r="7.27" transform="matrix(0.35 0.27 0.58 -0.13 439.65 70.35)" fill="#340a5f"/><circle r="7.08" transform="matrix(0.35 0.27 0.58 -0.13 439.65 69.77)" fill="#3d0965"/><circle r="6.9" transform="matrix(0.35 0.27 0.58 -0.13 439.65 69.19)" fill="#440a68"/><circle r="6.73" transform="matrix(0.35 0.27 0.58 -0.13 439.65 68.6)" fill="#4c0c6b"/><circle r="6.58" transform="matrix(0.35 0.27 0.58 -0.13 439.65 68.02)" fill="#520e6d"/><circle r="6.42" transform="matrix(0.35 0.27 0.58 -0.13 439.65 67.44)" fill="#5a116e"/><circle r="6.28" transform="matrix(0.35 0.27 0.58 -0.13 439.65 66.86)" fill="#61136e"/><circle r="6.14" transform="matrix(0.35 0.27 0.58 -0.13 439.65 66.27)" fill="#69166e"/><circle r="6" transform="matrix(0.35 0.27 0.58 -0.13 439.65 65.69)" fill="#71196e"/><circle r="5.87" transform="matrix(0.35 0.27 0.58 -0.13 439.65 65.11)" fill="#771c6d"/><circle r="5.74" transform="matrix(0.35 0.27 0.58 -0.13 439.65 64.53)" fill="#7f1e6c"/><circle r="5.61" transform="matrix(0.35 0.27 0.58 -0.13 439.65 63.95)" fill="#85216b"/><circle r="5.49" transform="matrix(0.35 0.27 0.58 -0.13 439.65 63.36)" fill="#8d2369"/><circle r="5.37" transform="matrix(0.35 0.27 0.58 -0.13 439.65 62.78)" fill="#932667"/><circle r="5.25" transform="matrix(0.35 0.27 0.58 -0.13 439.65 62.2)" fill="#9b2964"/><circle r="5.14" transform="matrix(0.35 0.27 0.58 -0.13 439.65 61.62)" fill="#a32c61"/><circle r="5.02" transform="matrix(0.35 0.27 0.58 -0.13 439.65 61.04)" fill="#a92e5e"/><circle r="4.91" transform="matrix(0.35 0.27 0.58 -0.13 439.65 60.45)" fill="#b1325a"/><circle r="4.8" transform="matrix(0.35 0.27 0.58 -0.13 439.65 59.87)" fill="#b73557"/><circle r="4.69" transform="matrix(0.35 0.27 0.58 -0.13 439.65 59.29)" fill="#bf3952"/><circle r="4.58" transform="matrix(0.35 0.27 0.58 -0.13 439.65 58.71)" fill="#c43c4e"/><circle r="4.47" transform="matrix(0.35 0.27 0.58 -0.13 439.65 58.12)" fill="#cb4149"/><circle r="4.36" transform="matrix(0.35 0.27 0.58 -0.13 439.65 57.54)" fill="#d24644"/><circle r="4.25" transform="matrix(0.35 0.27 0.58 -0.13 439.65 56.96)" fill="#d74b3f"/><circle r="4.14" transform="matrix(0.35 0.27 0.58 -0.13 439.65 56.38)" fill="#dd513a"/><circle r="4.03" transform="matrix(0.35 0.27 0.58 -0.13 439.65 55.8)" fill="#e15635"/><circle r="3.92" transform="matrix(0.35 0.27 0.58 -0.13 439.65 55.21)" fill="#e65d2f"/><circle r="3.81" transform="matrix(0.35 0.27 0.58 -0.13 439.65 54.63)" fill="#ea632a"/><circle r="3.7" transform="matrix(0.35 0.27 0.58 -0.13 439.65 54.05)" fill="#ee6a24"/><circle r="3.59" transform="matrix(0.35 0.27 0.58 -0.13 439.65 53.47)" fill="#f1731d"/><circle r="3.47" transform="matrix(0.35 0.27 0.58 -0.13 439.65 52.89)" fill="#f47918"/><circle r="3.36" transform="matrix(0.35 0.27 0.58 -0.13 439.65 52.3)" fill="#f78212"/><circle r="3.24" transform="matrix(0.35 0.27 0.58 -0.13 439.65 51.72)" fill="#f8890c"/><circle r="3.12" transform="matrix(0.35 0.27 0.58 -0.13 439.65 51.14)" fill="#fa9207"/><circle r="3" transform="matrix(0.35 0.27 0.58 -0.13 439.65 50.56)" fill="#fb9906"/><circle r="2.87" transform="matrix(0.35 0.27 0.58 -0.13 439.65 49.97)" fill="#fca309"/><circle r="2.74" transform="matrix(0.35 0.27 0.58 -0.13 439.65 49.39)" fill="#fcac11"/><circle r="2.61" transform="matrix(0.35 0.27 0.58 -0.13 439.65 48.81)" fill="#fcb418"/><circle r="2.47" transform="matrix(0.35 0.27 0.58 -0.13 439.65 48.23)" fill="#fbbe23"/><circle r="2.32" transform="matrix(0.35 0.27 0.58 -0.13 439.65 47.65)" fill="#fac62d"/><circle r="2.16" transform="matrix(0.35 0.27 0.58 -0.13 439.65 47.06)" fill="#f8cf3a"/><circle r="2" transform="matrix(0.35 0.27 0.58 -0.13 439.65 46.48)" fill="#f6d746"/><circle r="1.81" transform="matrix(0.35 0.27 0.58 -0.13 439.65 45.9)" fill="#f4e156"/><circle r="1.61" transform="matrix(0.35 0.27 0.58 -0.13 439.65 45.32)" fill="#f2ea69"/><circle r="1.38" transform="matrix(0.35 0.27 0.58 -0.13 439.65 44.74)" fill="#f1f179"/><circle r="1.09" transform="matrix(0.35 0.27 0.58 -0.13 439.65 44.15)" fill="#f4f88e"/><circle r="0.66" transform="matrix(0.35 0.27 0.58 -0.13 439.65 43.57)" fill="#f9fc9d"/></g><polygon points="397.5,20.93 426.4,43.58 481.8,31.63 452.9,8.98" fill="#000004"/><g clip-path="url(#ct02)"><circle r="15.16" transform="matrix(0.35 0.27 0.58 -0.13 439.65 26.28)" fill="url(#rg02)"/></g><text x="394.8" y="71.13" font-size="4.3" font-family='"Liberation Sans", sans-serif' text-anchor="end" fill="#333">0</text><text x="394.8" y="54.58" font-size="4.3" font-family='"Liberation Sans", sans-serif' text-anchor="end" fill="#333">0.5</text><text x="394.8" y="38.03" font-size="4.3" font-family='"Liberation Sans", sans-serif' text-anchor="end" fill="#333">1</text><text x="398.82" y="79.5" font-size="4.3" font-family='"Liberation Sans", sans-serif' text-anchor="end" fill="#333">0.01</text><text x="408.45" y="87.05" font-size="4.3" font-family='"Liberation Sans", sans-serif' text-anchor="end" fill="#333">0</text><text x="418.08" y="94.6" font-size="4.3" font-family='"Liberation Sans", sans-serif' text-anchor="end" fill="#333">-0.01</text><text x="438.53" y="97.79" font-size="4.3" font-family='"Liberation Sans", sans-serif' text-anchor="start" fill="#333">-0.01</text><text x="457" y="93.8" font-size="4.3" font-family='"Liberation Sans", sans-serif' text-anchor="start" fill="#333">0</text><text x="475.47" y="89.82" font-size="4.3" font-family='"Liberation Sans", sans-serif' text-anchor="start" fill="#333">0.01</text><text x="380.5" y="92.3" font-size="5.6" font-family='"Liberation Serif", serif' text-anchor="start" fill="#333" font-style="italic" textLength="23.3" lengthAdjust="spacingAndGlyphs">sinθsinφ</text><text x="454.1" y="100.2" font-size="5.6" font-family='"Liberation Serif", serif' text-anchor="start" fill="#333" font-style="italic" textLength="24.3" lengthAdjust="spacingAndGlyphs">sinθcosφ</text><text transform="translate(386.6 47.5) rotate(-90)" font-size="6.2" font-family='"Liberation Serif", serif' font-style="italic" text-anchor="middle" textLength="41" lengthAdjust="spacingAndGlyphs" fill="#444">E (Normalized)</text><text x="379.6" y="19.8" font-size="12.5" font-family='"Liberation Serif", serif' text-anchor="start" fill="#222" stroke="#222" stroke-width="0.25">(c)</text><rect x="396.6" y="105.2" width="85.6" height="6.2" fill="url(#cb)"/><text x="413.9" y="119.5" font-size="5.4" font-family='"Liberation Sans", sans-serif' text-anchor="middle" fill="#333">0.2</text><text x="431" y="119.5" font-size="5.4" font-family='"Liberation Sans", sans-serif' text-anchor="middle" fill="#333">0.4</text><text x="448.1" y="119.5" font-size="5.4" font-family='"Liberation Sans", sans-serif' text-anchor="middle" fill="#333">0.6</text><text x="465.2" y="119.5" font-size="5.4" font-family='"Liberation Sans", sans-serif' text-anchor="middle" fill="#333">0.8</text><text x="482.3" y="119.5" font-size="5.4" font-family='"Liberation Sans", sans-serif' text-anchor="middle" fill="#333">1</text><path d="M501.5,90L501.5,46M518.2,90L518.2,46M534.9,90L534.9,46M492.2,81.2L543.8,81.2M492.2,72.4L543.8,72.4M492.2,63.6L543.8,63.6M492.2,54.8L543.8,54.8M492.2,46L543.8,46" stroke="#efefef" stroke-width="0.5" fill="none"/><path d="M493.2,90L493.2,90L493.45,90L493.7,90L493.95,90L494.2,90L494.45,90L494.7,90L494.95,90L495.2,90L495.45,90L495.7,90L495.95,90L496.2,90L496.45,90L496.7,90L496.95,90L497.2,90L497.45,90L497.7,90L497.95,90L498.2,90L498.45,90L498.7,90L498.95,90L499.2,90L499.45,90L499.7,90L499.95,90L500.2,90L500.45,90L500.7,90L500.95,90L501.2,90L501.45,90L501.7,90L501.95,90L502.2,90L502.45,90L502.7,90L502.95,90L503.2,90L503.45,90L503.7,90L503.95,90L504.2,90L504.45,90L504.7,90L504.95,90L505.2,90L505.45,90L505.7,90L505.95,90L506.2,90L506.45,90L506.7,90L506.95,90L507.2,90L507.45,90L507.7,90L507.95,90L508.2,90L508.45,90L508.7,90L508.95,90L509.2,90L509.45,90L509.7,90L509.95,90L510.2,90L510.45,90L510.7,90L510.95,90L511.2,89.99L511.45,89.99L511.7,89.98L511.95,89.96L512.2,89.92L512.45,89.86L512.7,89.76L512.95,89.61L513.2,89.36L513.45,89L513.7,88.47L513.95,87.73L514.2,86.71L514.45,85.37L514.7,83.64L514.95,81.49L515.2,78.9L515.45,75.89L515.7,72.51L515.95,68.83L516.2,64.98L516.45,61.11L516.7,57.4L516.95,54L517.2,51.09L517.45,48.78L517.7,47.16L517.95,46.26L518.2,46L518.45,46.26L518.7,47.16L518.95,48.78L519.2,51.09L519.45,54L519.7,57.4L519.95,61.11L520.2,64.98L520.45,68.83L520.7,72.51L520.95,75.89L521.2,78.9L521.45,81.49L521.7,83.64L521.95,85.37L522.2,86.71L522.45,87.73L522.7,88.47L522.95,89L523.2,89.36L523.45,89.61L523.7,89.76L523.95,89.86L524.2,89.92L524.45,89.96L524.7,89.98L524.95,89.99L525.2,89.99L525.45,90L525.7,90L525.95,90L526.2,90L526.45,90L526.7,90L526.95,90L527.2,90L527.45,90L527.7,90L527.95,90L528.2,90L528.45,90L528.7,90L528.95,90L529.2,90L529.45,90L529.7,90L529.95,90L530.2,90L530.45,90L530.7,90L530.95,90L531.2,90L531.45,90L531.7,90L531.95,90L532.2,90L532.45,90L532.7,90L532.95,90L533.2,90L533.45,90L533.7,90L533.95,90L534.2,90L534.45,90L534.7,90L534.95,90L535.2,90L535.45,90L535.7,90L535.95,90L536.2,90L536.45,90L536.7,90L536.95,90L537.2,90L537.45,90L537.7,90L537.95,90L538.2,90L538.45,90L538.7,90L538.95,90L539.2,90L539.45,90L539.7,90L539.95,90L540.2,90L540.45,90L540.7,90L540.95,90L541.2,90L541.45,90L541.7,90L541.95,90L542.2,90L542.45,90L542.7,90L542.95,90L543.2,90L543.2,90Z" fill="url(#g202)"/><path d="M492.2,46L492.2,90L543.8,90M492.2,90L493.2,90M492.2,81.2L493.2,81.2M492.2,72.4L493.2,72.4M492.2,63.6L493.2,63.6M492.2,54.8L493.2,54.8M492.2,46L493.2,46M501.5,90L501.5,89M518.2,90L518.2,89M534.9,90L534.9,89M494.82,90L494.82,89.4M498.16,90L498.16,89.4M501.5,90L501.5,89.4M504.84,90L504.84,89.4M508.18,90L508.18,89.4M511.52,90L511.52,89.4M514.86,90L514.86,89.4M518.2,90L518.2,89.4M521.54,90L521.54,89.4M524.88,90L524.88,89.4M528.22,90L528.22,89.4M531.56,90L531.56,89.4M534.9,90L534.9,89.4M538.24,90L538.24,89.4M541.58,90L541.58,89.4" stroke="#8c8c8c" stroke-width="0.5" fill="none"/><text x="490.9" y="91.6" font-size="4.3" font-family='"Liberation Sans", sans-serif' text-anchor="end" fill="#333">0</text><text x="490.9" y="82.8" font-size="4.3" font-family='"Liberation Sans", sans-serif' text-anchor="end" fill="#333">0.2</text><text x="490.9" y="74" font-size="4.3" font-family='"Liberation Sans", sans-serif' text-anchor="end" fill="#333">0.4</text><text x="490.9" y="65.2" font-size="4.3" font-family='"Liberation Sans", sans-serif' text-anchor="end" fill="#333">0.6</text><text x="490.9" y="56.4" font-size="4.3" font-family='"Liberation Sans", sans-serif' text-anchor="end" fill="#333">0.8</text><text x="490.9" y="47.6" font-size="4.3" font-family='"Liberation Sans", sans-serif' text-anchor="end" fill="#333">1</text><text x="501.5" y="97" font-size="4.3" font-family='"Liberation Sans", sans-serif' text-anchor="middle" fill="#333">-0.01</text><text x="518.2" y="97" font-size="4.3" font-family='"Liberation Sans", sans-serif' text-anchor="middle" fill="#333">0</text><text x="534.9" y="97" font-size="4.3" font-family='"Liberation Sans", sans-serif' text-anchor="middle" fill="#333">0.01</text></g><g><path d="M29.7,198.93L85.1,186.98M85.1,186.98L114,209.63M29.7,182.38L85.1,170.43M85.1,170.43L114,193.08M29.7,165.83L85.1,153.88M85.1,153.88L114,176.53M29.7,149.28L85.1,137.33M85.1,137.33L114,159.98M38.93,196.94L38.93,147.34M89.92,190.75L89.92,141.16M57.4,192.96L57.4,143.36M99.55,198.31L99.55,148.71M75.87,188.97L75.87,139.37M109.18,205.86L109.18,156.26M85.1,186.98L85.1,137.38" stroke="#f1f1f1" stroke-width="0.5" fill="none"/><path d="M29.7,149.33L29.7,198.93M29.7,198.93L58.6,221.58L114,209.63" stroke="#8a8a8a" stroke-width="0.5" fill="none"/><path d="M29.7,198.93L28.5,199.43M29.7,182.38L28.5,182.88M29.7,165.83L28.5,166.33" stroke="#8a8a8a" stroke-width="0.5" fill="none"/><polygon points="29.7,198.93 58.6,221.58 114,209.63 85.1,186.98" fill="#000004"/><g><circle r="38.77" transform="matrix(0.26 0.2 0.61 -0.13 71.85 203.99)" fill="#010106"/><circle r="34.37" transform="matrix(0.26 0.2 0.61 -0.13 71.85 203.41)" fill="#02020e"/><circle r="32.07" transform="matrix(0.26 0.2 0.61 -0.13 71.85 202.82)" fill="#060419"/><circle r="30.45" transform="matrix(0.26 0.2 0.61 -0.13 71.85 202.24)" fill="#0b0724"/><circle r="29.16" transform="matrix(0.26 0.2 0.61 -0.13 71.85 201.66)" fill="#10092d"/><circle r="28.08" transform="matrix(0.26 0.2 0.61 -0.13 71.85 201.08)" fill="#160b39"/><circle r="27.14" transform="matrix(0.26 0.2 0.61 -0.13 71.85 200.5)" fill="#1c0c43"/><circle r="26.31" transform="matrix(0.26 0.2 0.61 -0.13 71.85 199.91)" fill="#240c4f"/><circle r="25.55" transform="matrix(0.26 0.2 0.61 -0.13 71.85 199.33)" fill="#2b0b57"/><circle r="24.85" transform="matrix(0.26 0.2 0.61 -0.13 71.85 198.75)" fill="#340a5f"/><circle r="24.21" transform="matrix(0.26 0.2 0.61 -0.13 71.85 198.17)" fill="#3d0965"/><circle r="23.6" transform="matrix(0.26 0.2 0.61 -0.13 71.85 197.59)" fill="#440a68"/><circle r="23.03" transform="matrix(0.26 0.2 0.61 -0.13 71.85 197)" fill="#4c0c6b"/><circle r="22.48" transform="matrix(0.26 0.2 0.61 -0.13 71.85 196.42)" fill="#520e6d"/><circle r="21.96" transform="matrix(0.26 0.2 0.61 -0.13 71.85 195.84)" fill="#5a116e"/><circle r="21.46" transform="matrix(0.26 0.2 0.61 -0.13 71.85 195.26)" fill="#61136e"/><circle r="20.98" transform="matrix(0.26 0.2 0.61 -0.13 71.85 194.67)" fill="#69166e"/><circle r="20.51" transform="matrix(0.26 0.2 0.61 -0.13 71.85 194.09)" fill="#71196e"/><circle r="20.06" transform="matrix(0.26 0.2 0.61 -0.13 71.85 193.51)" fill="#771c6d"/><circle r="19.62" transform="matrix(0.26 0.2 0.61 -0.13 71.85 192.93)" fill="#7f1e6c"/><circle r="19.19" transform="matrix(0.26 0.2 0.61 -0.13 71.85 192.35)" fill="#85216b"/><circle r="18.78" transform="matrix(0.26 0.2 0.61 -0.13 71.85 191.76)" fill="#8d2369"/><circle r="18.37" transform="matrix(0.26 0.2 0.61 -0.13 71.85 191.18)" fill="#932667"/><circle r="17.96" transform="matrix(0.26 0.2 0.61 -0.13 71.85 190.6)" fill="#9b2964"/><circle r="17.56" transform="matrix(0.26 0.2 0.61 -0.13 71.85 190.02)" fill="#a32c61"/><circle r="17.17" transform="matrix(0.26 0.2 0.61 -0.13 71.85 189.44)" fill="#a92e5e"/><circle r="16.79" transform="matrix(0.26 0.2 0.61 -0.13 71.85 188.85)" fill="#b1325a"/><circle r="16.4" transform="matrix(0.26 0.2 0.61 -0.13 71.85 188.27)" fill="#b73557"/><circle r="16.02" transform="matrix(0.26 0.2 0.61 -0.13 71.85 187.69)" fill="#bf3952"/><circle r="15.65" transform="matrix(0.26 0.2 0.61 -0.13 71.85 187.11)" fill="#c43c4e"/><circle r="15.27" transform="matrix(0.26 0.2 0.61 -0.13 71.85 186.52)" fill="#cb4149"/><circle r="14.9" transform="matrix(0.26 0.2 0.61 -0.13 71.85 185.94)" fill="#d24644"/><circle r="14.52" transform="matrix(0.26 0.2 0.61 -0.13 71.85 185.36)" fill="#d74b3f"/><circle r="14.15" transform="matrix(0.26 0.2 0.61 -0.13 71.85 184.78)" fill="#dd513a"/><circle r="13.78" transform="matrix(0.26 0.2 0.61 -0.13 71.85 184.2)" fill="#e15635"/><circle r="13.4" transform="matrix(0.26 0.2 0.61 -0.13 71.85 183.61)" fill="#e65d2f"/><circle r="13.02" transform="matrix(0.26 0.2 0.61 -0.13 71.85 183.03)" fill="#ea632a"/><circle r="12.64" transform="matrix(0.26 0.2 0.61 -0.13 71.85 182.45)" fill="#ee6a24"/><circle r="12.26" transform="matrix(0.26 0.2 0.61 -0.13 71.85 181.87)" fill="#f1731d"/><circle r="11.87" transform="matrix(0.26 0.2 0.61 -0.13 71.85 181.29)" fill="#f47918"/><circle r="11.48" transform="matrix(0.26 0.2 0.61 -0.13 71.85 180.7)" fill="#f78212"/><circle r="11.07" transform="matrix(0.26 0.2 0.61 -0.13 71.85 180.12)" fill="#f8890c"/><circle r="10.67" transform="matrix(0.26 0.2 0.61 -0.13 71.85 179.54)" fill="#fa9207"/><circle r="10.25" transform="matrix(0.26 0.2 0.61 -0.13 71.85 178.96)" fill="#fb9906"/><circle r="9.82" transform="matrix(0.26 0.2 0.61 -0.13 71.85 178.37)" fill="#fca309"/><circle r="9.37" transform="matrix(0.26 0.2 0.61 -0.13 71.85 177.79)" fill="#fcac11"/><circle r="8.91" transform="matrix(0.26 0.2 0.61 -0.13 71.85 177.21)" fill="#fcb418"/><circle r="8.43" transform="matrix(0.26 0.2 0.61 -0.13 71.85 176.63)" fill="#fbbe23"/><circle r="7.93" transform="matrix(0.26 0.2 0.61 -0.13 71.85 176.05)" fill="#fac62d"/><circle r="7.4" transform="matrix(0.26 0.2 0.61 -0.13 71.85 175.46)" fill="#f8cf3a"/><circle r="6.83" transform="matrix(0.26 0.2 0.61 -0.13 71.85 174.88)" fill="#f6d746"/><circle r="6.2" transform="matrix(0.26 0.2 0.61 -0.13 71.85 174.3)" fill="#f4e156"/><circle r="5.51" transform="matrix(0.26 0.2 0.61 -0.13 71.85 173.72)" fill="#f2ea69"/><circle r="4.71" transform="matrix(0.26 0.2 0.61 -0.13 71.85 173.14)" fill="#f1f179"/><circle r="3.72" transform="matrix(0.26 0.2 0.61 -0.13 71.85 172.55)" fill="#f4f88e"/><circle r="2.25" transform="matrix(0.26 0.2 0.61 -0.13 71.85 171.97)" fill="#f9fc9d"/></g><polygon points="29.7,149.33 58.6,171.98 114,160.03 85.1,137.38" fill="#000004"/><g clip-path="url(#ct10)"><circle r="51.84" transform="matrix(0.26 0.2 0.61 -0.13 71.85 154.68)" fill="url(#rg10)"/></g><text x="27" y="199.53" font-size="4.3" font-family='"Liberation Sans", sans-serif' text-anchor="end" fill="#333">0</text><text x="27" y="182.98" font-size="4.3" font-family='"Liberation Sans", sans-serif' text-anchor="end" fill="#333">0.5</text><text x="27" y="166.43" font-size="4.3" font-family='"Liberation Sans", sans-serif' text-anchor="end" fill="#333">1</text><text x="31.02" y="207.9" font-size="4.3" font-family='"Liberation Sans", sans-serif' text-anchor="end" fill="#333">0.01</text><text x="40.65" y="215.45" font-size="4.3" font-family='"Liberation Sans", sans-serif' text-anchor="end" fill="#333">0</text><text x="50.28" y="223" font-size="4.3" font-family='"Liberation Sans", sans-serif' text-anchor="end" fill="#333">-0.01</text><text x="70.73" y="226.19" font-size="4.3" font-family='"Liberation Sans", sans-serif' text-anchor="start" fill="#333">-0.01</text><text x="89.2" y="222.2" font-size="4.3" font-family='"Liberation Sans", sans-serif' text-anchor="start" fill="#333">0</text><text x="107.67" y="218.22" font-size="4.3" font-family='"Liberation Sans", sans-serif' text-anchor="start" fill="#333">0.01</text><text x="12.7" y="220.7" font-size="5.6" font-family='"Liberation Serif", serif' text-anchor="start" fill="#333" font-style="italic" textLength="23.3" lengthAdjust="spacingAndGlyphs">sinθsinφ</text><text x="86.3" y="228.6" font-size="5.6" font-family='"Liberation Serif", serif' text-anchor="start" fill="#333" font-style="italic" textLength="24.3" lengthAdjust="spacingAndGlyphs">sinθcosφ</text><text transform="translate(18.8 175.9) rotate(-90)" font-size="6.2" font-family='"Liberation Serif", serif' font-style="italic" text-anchor="middle" textLength="41" lengthAdjust="spacingAndGlyphs" fill="#444">E (Normalized)</text><text x="11.8" y="148.2" font-size="12.5" font-family='"Liberation Serif", serif' text-anchor="start" fill="#222" stroke="#222" stroke-width="0.25">(d)</text><rect x="28.8" y="233.6" width="85.6" height="6.2" fill="url(#cb)"/><text x="46.1" y="247.9" font-size="5.4" font-family='"Liberation Sans", sans-serif' text-anchor="middle" fill="#333">0.2</text><text x="63.2" y="247.9" font-size="5.4" font-family='"Liberation Sans", sans-serif' text-anchor="middle" fill="#333">0.4</text><text x="80.3" y="247.9" font-size="5.4" font-family='"Liberation Sans", sans-serif' text-anchor="middle" fill="#333">0.6</text><text x="97.4" y="247.9" font-size="5.4" font-family='"Liberation Sans", sans-serif' text-anchor="middle" fill="#333">0.8</text><text x="114.5" y="247.9" font-size="5.4" font-family='"Liberation Sans", sans-serif' text-anchor="middle" fill="#333">1</text><path d="M133.3,218.6L133.3,174.6M150,218.6L150,174.6M166.7,218.6L166.7,174.6M124,209.8L175.6,209.8M124,201L175.6,201M124,192.2L175.6,192.2M124,183.4L175.6,183.4M124,174.6L175.6,174.6" stroke="#efefef" stroke-width="0.5" fill="none"/><path d="M125,218.6L125,218.54L125.25,218.53L125.5,218.52L125.75,218.5L126,218.49L126.25,218.47L126.5,218.46L126.75,218.43L127,218.41L127.25,218.39L127.5,218.36L127.75,218.32L128,218.29L128.25,218.25L128.5,218.2L128.75,218.15L129,218.09L129.25,218.03L129.5,217.96L129.75,217.89L130,217.8L130.25,217.71L130.5,217.61L130.75,217.5L131,217.37L131.25,217.24L131.5,217.1L131.75,216.94L132,216.77L132.25,216.58L132.5,216.38L132.75,216.17L133,215.93L133.25,215.68L133.5,215.41L133.75,215.13L134,214.82L134.25,214.49L134.5,214.14L134.75,213.76L135,213.36L135.25,212.94L135.5,212.5L135.75,212.03L136,211.53L136.25,211.01L136.5,210.47L136.75,209.9L137,209.3L137.25,208.67L137.5,208.02L137.75,207.35L138,206.64L138.25,205.92L138.5,205.17L138.75,204.39L139,203.6L139.25,202.78L139.5,201.94L139.75,201.08L140,200.21L140.25,199.32L140.5,198.42L140.75,197.5L141,196.57L141.25,195.64L141.5,194.7L141.75,193.75L142,192.8L142.25,191.86L142.5,190.92L142.75,189.98L143,189.05L143.25,188.13L143.5,187.22L143.75,186.34L144,185.46L144.25,184.61L144.5,183.79L144.75,182.98L145,182.21L145.25,181.46L145.5,180.75L145.75,180.07L146,179.43L146.25,178.82L146.5,178.25L146.75,177.72L147,177.23L147.25,176.79L147.5,176.38L147.75,176.02L148,175.7L148.25,175.42L148.5,175.19L148.75,174.99L149,174.84L149.25,174.73L149.5,174.65L149.75,174.61L150,174.6L150.25,174.61L150.5,174.65L150.75,174.73L151,174.84L151.25,174.99L151.5,175.19L151.75,175.42L152,175.7L152.25,176.02L152.5,176.38L152.75,176.79L153,177.23L153.25,177.72L153.5,178.25L153.75,178.82L154,179.43L154.25,180.07L154.5,180.75L154.75,181.46L155,182.21L155.25,182.98L155.5,183.79L155.75,184.61L156,185.46L156.25,186.34L156.5,187.22L156.75,188.13L157,189.05L157.25,189.98L157.5,190.92L157.75,191.86L158,192.8L158.25,193.75L158.5,194.7L158.75,195.64L159,196.57L159.25,197.5L159.5,198.42L159.75,199.32L160,200.21L160.25,201.08L160.5,201.94L160.75,202.78L161,203.6L161.25,204.39L161.5,205.17L161.75,205.92L162,206.64L162.25,207.35L162.5,208.02L162.75,208.67L163,209.3L163.25,209.9L163.5,210.47L163.75,211.01L164,211.53L164.25,212.03L164.5,212.5L164.75,212.94L165,213.36L165.25,213.76L165.5,214.14L165.75,214.49L166,214.82L166.25,215.13L166.5,215.41L166.75,215.68L167,215.93L167.25,216.17L167.5,216.38L167.75,216.58L168,216.77L168.25,216.94L168.5,217.1L168.75,217.24L169,217.37L169.25,217.5L169.5,217.61L169.75,217.71L170,217.8L170.25,217.89L170.5,217.96L170.75,218.03L171,218.09L171.25,218.15L171.5,218.2L171.75,218.25L172,218.29L172.25,218.32L172.5,218.36L172.75,218.39L173,218.41L173.25,218.43L173.5,218.46L173.75,218.47L174,218.49L174.25,218.5L174.5,218.52L174.75,218.53L175,218.54L175,218.6Z" fill="url(#g210)"/><path d="M124,174.6L124,218.6L175.6,218.6M124,218.6L125,218.6M124,209.8L125,209.8M124,201L125,201M124,192.2L125,192.2M124,183.4L125,183.4M124,174.6L125,174.6M133.3,218.6L133.3,217.6M150,218.6L150,217.6M166.7,218.6L166.7,217.6M126.62,218.6L126.62,218M129.96,218.6L129.96,218M133.3,218.6L133.3,218M136.64,218.6L136.64,218M139.98,218.6L139.98,218M143.32,218.6L143.32,218M146.66,218.6L146.66,218M150,218.6L150,218M153.34,218.6L153.34,218M156.68,218.6L156.68,218M160.02,218.6L160.02,218M163.36,218.6L163.36,218M166.7,218.6L166.7,218M170.04,218.6L170.04,218M173.38,218.6L173.38,218" stroke="#8c8c8c" stroke-width="0.5" fill="none"/><text x="122.7" y="220.2" font-size="4.3" font-family='"Liberation Sans", sans-serif' text-anchor="end" fill="#333">0</text><text x="122.7" y="211.4" font-size="4.3" font-family='"Liberation Sans", sans-serif' text-anchor="end" fill="#333">0.2</text><text x="122.7" y="202.6" font-size="4.3" font-family='"Liberation Sans", sans-serif' text-anchor="end" fill="#333">0.4</text><text x="122.7" y="193.8" font-size="4.3" font-family='"Liberation Sans", sans-serif' text-anchor="end" fill="#333">0.6</text><text x="122.7" y="185" font-size="4.3" font-family='"Liberation Sans", sans-serif' text-anchor="end" fill="#333">0.8</text><text x="122.7" y="176.2" font-size="4.3" font-family='"Liberation Sans", sans-serif' text-anchor="end" fill="#333">1</text><text x="133.3" y="225.6" font-size="4.3" font-family='"Liberation Sans", sans-serif' text-anchor="middle" fill="#333">-0.01</text><text x="150" y="225.6" font-size="4.3" font-family='"Liberation Sans", sans-serif' text-anchor="middle" fill="#333">0</text><text x="166.7" y="225.6" font-size="4.3" font-family='"Liberation Sans", sans-serif' text-anchor="middle" fill="#333">0.01</text></g><g><path d="M212.2,198.93L267.6,186.98M267.6,186.98L296.5,209.63M212.2,182.38L267.6,170.43M267.6,170.43L296.5,193.08M212.2,165.83L267.6,153.88M267.6,153.88L296.5,176.53M212.2,149.28L267.6,137.33M267.6,137.33L296.5,159.98M221.43,196.94L221.43,147.34M272.42,190.75L272.42,141.16M239.9,192.96L239.9,143.36M282.05,198.31L282.05,148.71M258.37,188.97L258.37,139.37M291.68,205.86L291.68,156.26M267.6,186.98L267.6,137.38" stroke="#f1f1f1" stroke-width="0.5" fill="none"/><path d="M212.2,149.33L212.2,198.93M212.2,198.93L241.1,221.58L296.5,209.63" stroke="#8a8a8a" stroke-width="0.5" fill="none"/><path d="M212.2,198.93L211,199.43M212.2,182.38L211,182.88M212.2,165.83L211,166.33" stroke="#8a8a8a" stroke-width="0.5" fill="none"/><polygon points="212.2,198.93 241.1,221.58 296.5,209.63 267.6,186.98" fill="#000004"/><g><circle r="13.87" transform="matrix(0.33 0.26 0.58 -0.13 254.35 203.99)" fill="#010106"/><circle r="12.3" transform="matrix(0.33 0.26 0.58 -0.13 254.35 203.41)" fill="#02020e"/><circle r="11.47" transform="matrix(0.33 0.26 0.58 -0.13 254.35 202.82)" fill="#060419"/><circle r="10.89" transform="matrix(0.33 0.26 0.58 -0.13 254.35 202.24)" fill="#0b0724"/><circle r="10.43" transform="matrix(0.33 0.26 0.58 -0.13 254.35 201.66)" fill="#10092d"/><circle r="10.05" transform="matrix(0.33 0.26 0.58 -0.13 254.35 201.08)" fill="#160b39"/><circle r="9.71" transform="matrix(0.33 0.26 0.58 -0.13 254.35 200.5)" fill="#1c0c43"/><circle r="9.41" transform="matrix(0.33 0.26 0.58 -0.13 254.35 199.91)" fill="#240c4f"/><circle r="9.14" transform="matrix(0.33 0.26 0.58 -0.13 254.35 199.33)" fill="#2b0b57"/><circle r="8.89" transform="matrix(0.33 0.26 0.58 -0.13 254.35 198.75)" fill="#340a5f"/><circle r="8.66" transform="matrix(0.33 0.26 0.58 -0.13 254.35 198.17)" fill="#3d0965"/><circle r="8.44" transform="matrix(0.33 0.26 0.58 -0.13 254.35 197.59)" fill="#440a68"/><circle r="8.24" transform="matrix(0.33 0.26 0.58 -0.13 254.35 197)" fill="#4c0c6b"/><circle r="8.04" transform="matrix(0.33 0.26 0.58 -0.13 254.35 196.42)" fill="#520e6d"/><circle r="7.86" transform="matrix(0.33 0.26 0.58 -0.13 254.35 195.84)" fill="#5a116e"/><circle r="7.68" transform="matrix(0.33 0.26 0.58 -0.13 254.35 195.26)" fill="#61136e"/><circle r="7.51" transform="matrix(0.33 0.26 0.58 -0.13 254.35 194.67)" fill="#69166e"/><circle r="7.34" transform="matrix(0.33 0.26 0.58 -0.13 254.35 194.09)" fill="#71196e"/><circle r="7.18" transform="matrix(0.33 0.26 0.58 -0.13 254.35 193.51)" fill="#771c6d"/><circle r="7.02" transform="matrix(0.33 0.26 0.58 -0.13 254.35 192.93)" fill="#7f1e6c"/><circle r="6.87" transform="matrix(0.33 0.26 0.58 -0.13 254.35 192.35)" fill="#85216b"/><circle r="6.72" transform="matrix(0.33 0.26 0.58 -0.13 254.35 191.76)" fill="#8d2369"/><circle r="6.57" transform="matrix(0.33 0.26 0.58 -0.13 254.35 191.18)" fill="#932667"/><circle r="6.43" transform="matrix(0.33 0.26 0.58 -0.13 254.35 190.6)" fill="#9b2964"/><circle r="6.28" transform="matrix(0.33 0.26 0.58 -0.13 254.35 190.02)" fill="#a32c61"/><circle r="6.14" transform="matrix(0.33 0.26 0.58 -0.13 254.35 189.44)" fill="#a92e5e"/><circle r="6.01" transform="matrix(0.33 0.26 0.58 -0.13 254.35 188.85)" fill="#b1325a"/><circle r="5.87" transform="matrix(0.33 0.26 0.58 -0.13 254.35 188.27)" fill="#b73557"/><circle r="5.73" transform="matrix(0.33 0.26 0.58 -0.13 254.35 187.69)" fill="#bf3952"/><circle r="5.6" transform="matrix(0.33 0.26 0.58 -0.13 254.35 187.11)" fill="#c43c4e"/><circle r="5.46" transform="matrix(0.33 0.26 0.58 -0.13 254.35 186.52)" fill="#cb4149"/><circle r="5.33" transform="matrix(0.33 0.26 0.58 -0.13 254.35 185.94)" fill="#d24644"/><circle r="5.2" transform="matrix(0.33 0.26 0.58 -0.13 254.35 185.36)" fill="#d74b3f"/><circle r="5.06" transform="matrix(0.33 0.26 0.58 -0.13 254.35 184.78)" fill="#dd513a"/><circle r="4.93" transform="matrix(0.33 0.26 0.58 -0.13 254.35 184.2)" fill="#e15635"/><circle r="4.79" transform="matrix(0.33 0.26 0.58 -0.13 254.35 183.61)" fill="#e65d2f"/><circle r="4.66" transform="matrix(0.33 0.26 0.58 -0.13 254.35 183.03)" fill="#ea632a"/><circle r="4.52" transform="matrix(0.33 0.26 0.58 -0.13 254.35 182.45)" fill="#ee6a24"/><circle r="4.39" transform="matrix(0.33 0.26 0.58 -0.13 254.35 181.87)" fill="#f1731d"/><circle r="4.25" transform="matrix(0.33 0.26 0.58 -0.13 254.35 181.29)" fill="#f47918"/><circle r="4.11" transform="matrix(0.33 0.26 0.58 -0.13 254.35 180.7)" fill="#f78212"/><circle r="3.96" transform="matrix(0.33 0.26 0.58 -0.13 254.35 180.12)" fill="#f8890c"/><circle r="3.82" transform="matrix(0.33 0.26 0.58 -0.13 254.35 179.54)" fill="#fa9207"/><circle r="3.67" transform="matrix(0.33 0.26 0.58 -0.13 254.35 178.96)" fill="#fb9906"/><circle r="3.51" transform="matrix(0.33 0.26 0.58 -0.13 254.35 178.37)" fill="#fca309"/><circle r="3.35" transform="matrix(0.33 0.26 0.58 -0.13 254.35 177.79)" fill="#fcac11"/><circle r="3.19" transform="matrix(0.33 0.26 0.58 -0.13 254.35 177.21)" fill="#fcb418"/><circle r="3.02" transform="matrix(0.33 0.26 0.58 -0.13 254.35 176.63)" fill="#fbbe23"/><circle r="2.84" transform="matrix(0.33 0.26 0.58 -0.13 254.35 176.05)" fill="#fac62d"/><circle r="2.65" transform="matrix(0.33 0.26 0.58 -0.13 254.35 175.46)" fill="#f8cf3a"/><circle r="2.44" transform="matrix(0.33 0.26 0.58 -0.13 254.35 174.88)" fill="#f6d746"/><circle r="2.22" transform="matrix(0.33 0.26 0.58 -0.13 254.35 174.3)" fill="#f4e156"/><circle r="1.97" transform="matrix(0.33 0.26 0.58 -0.13 254.35 173.72)" fill="#f2ea69"/><circle r="1.68" transform="matrix(0.33 0.26 0.58 -0.13 254.35 173.14)" fill="#f1f179"/><circle r="1.33" transform="matrix(0.33 0.26 0.58 -0.13 254.35 172.55)" fill="#f4f88e"/><circle r="0.8" transform="matrix(0.33 0.26 0.58 -0.13 254.35 171.97)" fill="#f9fc9d"/></g><polygon points="212.2,149.33 241.1,171.98 296.5,160.03 267.6,137.38" fill="#000004"/><g clip-path="url(#ct11)"><circle r="18.55" transform="matrix(0.33 0.26 0.58 -0.13 254.35 154.68)" fill="url(#rg11)"/></g><text x="209.5" y="199.53" font-size="4.3" font-family='"Liberation Sans", sans-serif' text-anchor="end" fill="#333">0</text><text x="209.5" y="182.98" font-size="4.3" font-family='"Liberation Sans", sans-serif' text-anchor="end" fill="#333">0.5</text><text x="209.5" y="166.43" font-size="4.3" font-family='"Liberation Sans", sans-serif' text-anchor="end" fill="#333">1</text><text x="213.52" y="207.9" font-size="4.3" font-family='"Liberation Sans", sans-serif' text-anchor="end" fill="#333">0.01</text><text x="223.15" y="215.45" font-size="4.3" font-family='"Liberation Sans", sans-serif' text-anchor="end" fill="#333">0</text><text x="232.78" y="223" font-size="4.3" font-family='"Liberation Sans", sans-serif' text-anchor="end" fill="#333">-0.01</text><text x="253.23" y="226.19" font-size="4.3" font-family='"Liberation Sans", sans-serif' text-anchor="start" fill="#333">-0.01</text><text x="271.7" y="222.2" font-size="4.3" font-family='"Liberation Sans", sans-serif' text-anchor="start" fill="#333">0</text><text x="290.17" y="218.22" font-size="4.3" font-family='"Liberation Sans", sans-serif' text-anchor="start" fill="#333">0.01</text><text x="195.2" y="220.7" font-size="5.6" font-family='"Liberation Serif", serif' text-anchor="start" fill="#333" font-style="italic" textLength="23.3" lengthAdjust="spacingAndGlyphs">sinθsinφ</text><text x="268.8" y="228.6" font-size="5.6" font-family='"Liberation Serif", serif' text-anchor="start" fill="#333" font-style="italic" textLength="24.3" lengthAdjust="spacingAndGlyphs">sinθcosφ</text><text transform="translate(201.3 175.9) rotate(-90)" font-size="6.2" font-family='"Liberation Serif", serif' font-style="italic" text-anchor="middle" textLength="41" lengthAdjust="spacingAndGlyphs" fill="#444">E (Normalized)</text><text x="194.3" y="148.2" font-size="12.5" font-family='"Liberation Serif", serif' text-anchor="start" fill="#222" stroke="#222" stroke-width="0.25">(e)</text><rect x="211.3" y="233.6" width="85.6" height="6.2" fill="url(#cb)"/><text x="228.6" y="247.9" font-size="5.4" font-family='"Liberation Sans", sans-serif' text-anchor="middle" fill="#333">0.2</text><text x="245.7" y="247.9" font-size="5.4" font-family='"Liberation Sans", sans-serif' text-anchor="middle" fill="#333">0.4</text><text x="262.8" y="247.9" font-size="5.4" font-family='"Liberation Sans", sans-serif' text-anchor="middle" fill="#333">0.6</text><text x="279.9" y="247.9" font-size="5.4" font-family='"Liberation Sans", sans-serif' text-anchor="middle" fill="#333">0.8</text><text x="297" y="247.9" font-size="5.4" font-family='"Liberation Sans", sans-serif' text-anchor="middle" fill="#333">1</text><path d="M316.6,218.6L316.6,174.6M333.3,218.6L333.3,174.6M350,218.6L350,174.6M307.3,209.8L358.9,209.8M307.3,201L358.9,201M307.3,192.2L358.9,192.2M307.3,183.4L358.9,183.4M307.3,174.6L358.9,174.6" stroke="#efefef" stroke-width="0.5" fill="none"/><path d="M308.3,218.6L308.3,218.6L308.55,218.6L308.8,218.6L309.05,218.6L309.3,218.6L309.55,218.6L309.8,218.6L310.05,218.6L310.3,218.6L310.55,218.6L310.8,218.6L311.05,218.6L311.3,218.6L311.55,218.6L311.8,218.6L312.05,218.6L312.3,218.6L312.55,218.6L312.8,218.6L313.05,218.6L313.3,218.6L313.55,218.6L313.8,218.6L314.05,218.6L314.3,218.6L314.55,218.6L314.8,218.6L315.05,218.6L315.3,218.6L315.55,218.6L315.8,218.6L316.05,218.6L316.3,218.6L316.55,218.6L316.8,218.6L317.05,218.6L317.3,218.6L317.55,218.6L317.8,218.6L318.05,218.6L318.3,218.6L318.55,218.6L318.8,218.6L319.05,218.6L319.3,218.6L319.55,218.6L319.8,218.6L320.05,218.6L320.3,218.6L320.55,218.6L320.8,218.6L321.05,218.6L321.3,218.6L321.55,218.6L321.8,218.6L322.05,218.6L322.3,218.6L322.55,218.6L322.8,218.6L323.05,218.6L323.3,218.59L323.55,218.59L323.8,218.58L324.05,218.57L324.3,218.56L324.55,218.54L324.8,218.51L325.05,218.46L325.3,218.4L325.55,218.31L325.8,218.19L326.05,218.02L326.3,217.8L326.55,217.51L326.8,217.14L327.05,216.66L327.3,216.07L327.55,215.33L327.8,214.44L328.05,213.36L328.3,212.1L328.55,210.63L328.8,208.94L329.05,207.05L329.3,204.95L329.55,202.66L329.8,200.21L330.05,197.63L330.3,194.97L330.55,192.26L330.8,189.58L331.05,186.97L331.3,184.49L331.55,182.21L331.8,180.17L332.05,178.41L332.3,176.97L332.55,175.88L332.8,175.13L333.05,174.72L333.3,174.6L333.55,174.72L333.8,175.13L334.05,175.88L334.3,176.97L334.55,178.41L334.8,180.17L335.05,182.21L335.3,184.49L335.55,186.97L335.8,189.58L336.05,192.26L336.3,194.97L336.55,197.63L336.8,200.21L337.05,202.66L337.3,204.95L337.55,207.05L337.8,208.94L338.05,210.63L338.3,212.1L338.55,213.36L338.8,214.44L339.05,215.33L339.3,216.07L339.55,216.66L339.8,217.14L340.05,217.51L340.3,217.8L340.55,218.02L340.8,218.19L341.05,218.31L341.3,218.4L341.55,218.46L341.8,218.51L342.05,218.54L342.3,218.56L342.55,218.57L342.8,218.58L343.05,218.59L343.3,218.59L343.55,218.6L343.8,218.6L344.05,218.6L344.3,218.6L344.55,218.6L344.8,218.6L345.05,218.6L345.3,218.6L345.55,218.6L345.8,218.6L346.05,218.6L346.3,218.6L346.55,218.6L346.8,218.6L347.05,218.6L347.3,218.6L347.55,218.6L347.8,218.6L348.05,218.6L348.3,218.6L348.55,218.6L348.8,218.6L349.05,218.6L349.3,218.6L349.55,218.6L349.8,218.6L350.05,218.6L350.3,218.6L350.55,218.6L350.8,218.6L351.05,218.6L351.3,218.6L351.55,218.6L351.8,218.6L352.05,218.6L352.3,218.6L352.55,218.6L352.8,218.6L353.05,218.6L353.3,218.6L353.55,218.6L353.8,218.6L354.05,218.6L354.3,218.6L354.55,218.6L354.8,218.6L355.05,218.6L355.3,218.6L355.55,218.6L355.8,218.6L356.05,218.6L356.3,218.6L356.55,218.6L356.8,218.6L357.05,218.6L357.3,218.6L357.55,218.6L357.8,218.6L358.05,218.6L358.3,218.6L358.3,218.6Z" fill="url(#g211)"/><path d="M307.3,174.6L307.3,218.6L358.9,218.6M307.3,218.6L308.3,218.6M307.3,209.8L308.3,209.8M307.3,201L308.3,201M307.3,192.2L308.3,192.2M307.3,183.4L308.3,183.4M307.3,174.6L308.3,174.6M316.6,218.6L316.6,217.6M333.3,218.6L333.3,217.6M350,218.6L350,217.6M309.92,218.6L309.92,218M313.26,218.6L313.26,218M316.6,218.6L316.6,218M319.94,218.6L319.94,218M323.28,218.6L323.28,218M326.62,218.6L326.62,218M329.96,218.6L329.96,218M333.3,218.6L333.3,218M336.64,218.6L336.64,218M339.98,218.6L339.98,218M343.32,218.6L343.32,218M346.66,218.6L346.66,218M350,218.6L350,218M353.34,218.6L353.34,218M356.68,218.6L356.68,218" stroke="#8c8c8c" stroke-width="0.5" fill="none"/><text x="306" y="220.2" font-size="4.3" font-family='"Liberation Sans", sans-serif' text-anchor="end" fill="#333">0</text><text x="306" y="211.4" font-size="4.3" font-family='"Liberation Sans", sans-serif' text-anchor="end" fill="#333">0.2</text><text x="306" y="202.6" font-size="4.3" font-family='"Liberation Sans", sans-serif' text-anchor="end" fill="#333">0.4</text><text x="306" y="193.8" font-size="4.3" font-family='"Liberation Sans", sans-serif' text-anchor="end" fill="#333">0.6</text><text x="306" y="185" font-size="4.3" font-family='"Liberation Sans", sans-serif' text-anchor="end" fill="#333">0.8</text><text x="306" y="176.2" font-size="4.3" font-family='"Liberation Sans", sans-serif' text-anchor="end" fill="#333">1</text><text x="316.6" y="225.6" font-size="4.3" font-family='"Liberation Sans", sans-serif' text-anchor="middle" fill="#333">-0.01</text><text x="333.3" y="225.6" font-size="4.3" font-family='"Liberation Sans", sans-serif' text-anchor="middle" fill="#333">0</text><text x="350" y="225.6" font-size="4.3" font-family='"Liberation Sans", sans-serif' text-anchor="middle" fill="#333">0.01</text></g><g><path d="M397.5,198.93L452.9,186.98M452.9,186.98L481.8,209.63M397.5,182.38L452.9,170.43M452.9,170.43L481.8,193.08M397.5,165.83L452.9,153.88M452.9,153.88L481.8,176.53M397.5,149.28L452.9,137.33M452.9,137.33L481.8,159.98M406.73,196.94L406.73,147.34M457.72,190.75L457.72,141.16M425.2,192.96L425.2,143.36M467.35,198.31L467.35,148.71M443.67,188.97L443.67,139.37M476.98,205.86L476.98,156.26M452.9,186.98L452.9,137.38" stroke="#f1f1f1" stroke-width="0.5" fill="none"/><path d="M397.5,149.33L397.5,198.93M397.5,198.93L426.4,221.58L481.8,209.63" stroke="#8a8a8a" stroke-width="0.5" fill="none"/><path d="M397.5,198.93L396.3,199.43M397.5,182.38L396.3,182.88M397.5,165.83L396.3,166.33" stroke="#8a8a8a" stroke-width="0.5" fill="none"/><polygon points="397.5,198.93 426.4,221.58 481.8,209.63 452.9,186.98" fill="#000004"/><g><circle r="8.72" transform="matrix(0.35 0.27 0.58 -0.13 439.65 203.99)" fill="#010106"/><circle r="7.73" transform="matrix(0.35 0.27 0.58 -0.13 439.65 203.41)" fill="#02020e"/><circle r="7.22" transform="matrix(0.35 0.27 0.58 -0.13 439.65 202.82)" fill="#060419"/><circle r="6.85" transform="matrix(0.35 0.27 0.58 -0.13 439.65 202.24)" fill="#0b0724"/><circle r="6.56" transform="matrix(0.35 0.27 0.58 -0.13 439.65 201.66)" fill="#10092d"/><circle r="6.32" transform="matrix(0.35 0.27 0.58 -0.13 439.65 201.08)" fill="#160b39"/><circle r="6.11" transform="matrix(0.35 0.27 0.58 -0.13 439.65 200.5)" fill="#1c0c43"/><circle r="5.92" transform="matrix(0.35 0.27 0.58 -0.13 439.65 199.91)" fill="#240c4f"/><circle r="5.75" transform="matrix(0.35 0.27 0.58 -0.13 439.65 199.33)" fill="#2b0b57"/><circle r="5.59" transform="matrix(0.35 0.27 0.58 -0.13 439.65 198.75)" fill="#340a5f"/><circle r="5.45" transform="matrix(0.35 0.27 0.58 -0.13 439.65 198.17)" fill="#3d0965"/><circle r="5.31" transform="matrix(0.35 0.27 0.58 -0.13 439.65 197.59)" fill="#440a68"/><circle r="5.18" transform="matrix(0.35 0.27 0.58 -0.13 439.65 197)" fill="#4c0c6b"/><circle r="5.06" transform="matrix(0.35 0.27 0.58 -0.13 439.65 196.42)" fill="#520e6d"/><circle r="4.94" transform="matrix(0.35 0.27 0.58 -0.13 439.65 195.84)" fill="#5a116e"/><circle r="4.83" transform="matrix(0.35 0.27 0.58 -0.13 439.65 195.26)" fill="#61136e"/><circle r="4.72" transform="matrix(0.35 0.27 0.58 -0.13 439.65 194.67)" fill="#69166e"/><circle r="4.62" transform="matrix(0.35 0.27 0.58 -0.13 439.65 194.09)" fill="#71196e"/><circle r="4.51" transform="matrix(0.35 0.27 0.58 -0.13 439.65 193.51)" fill="#771c6d"/><circle r="4.42" transform="matrix(0.35 0.27 0.58 -0.13 439.65 192.93)" fill="#7f1e6c"/><circle r="4.32" transform="matrix(0.35 0.27 0.58 -0.13 439.65 192.35)" fill="#85216b"/><circle r="4.22" transform="matrix(0.35 0.27 0.58 -0.13 439.65 191.76)" fill="#8d2369"/><circle r="4.13" transform="matrix(0.35 0.27 0.58 -0.13 439.65 191.18)" fill="#932667"/><circle r="4.04" transform="matrix(0.35 0.27 0.58 -0.13 439.65 190.6)" fill="#9b2964"/><circle r="3.95" transform="matrix(0.35 0.27 0.58 -0.13 439.65 190.02)" fill="#a32c61"/><circle r="3.86" transform="matrix(0.35 0.27 0.58 -0.13 439.65 189.44)" fill="#a92e5e"/><circle r="3.78" transform="matrix(0.35 0.27 0.58 -0.13 439.65 188.85)" fill="#b1325a"/><circle r="3.69" transform="matrix(0.35 0.27 0.58 -0.13 439.65 188.27)" fill="#b73557"/><circle r="3.61" transform="matrix(0.35 0.27 0.58 -0.13 439.65 187.69)" fill="#bf3952"/><circle r="3.52" transform="matrix(0.35 0.27 0.58 -0.13 439.65 187.11)" fill="#c43c4e"/><circle r="3.44" transform="matrix(0.35 0.27 0.58 -0.13 439.65 186.52)" fill="#cb4149"/><circle r="3.35" transform="matrix(0.35 0.27 0.58 -0.13 439.65 185.94)" fill="#d24644"/><circle r="3.27" transform="matrix(0.35 0.27 0.58 -0.13 439.65 185.36)" fill="#d74b3f"/><circle r="3.18" transform="matrix(0.35 0.27 0.58 -0.13 439.65 184.78)" fill="#dd513a"/><circle r="3.1" transform="matrix(0.35 0.27 0.58 -0.13 439.65 184.2)" fill="#e15635"/><circle r="3.02" transform="matrix(0.35 0.27 0.58 -0.13 439.65 183.61)" fill="#e65d2f"/><circle r="2.93" transform="matrix(0.35 0.27 0.58 -0.13 439.65 183.03)" fill="#ea632a"/><circle r="2.84" transform="matrix(0.35 0.27 0.58 -0.13 439.65 182.45)" fill="#ee6a24"/><circle r="2.76" transform="matrix(0.35 0.27 0.58 -0.13 439.65 181.87)" fill="#f1731d"/><circle r="2.67" transform="matrix(0.35 0.27 0.58 -0.13 439.65 181.29)" fill="#f47918"/><circle r="2.58" transform="matrix(0.35 0.27 0.58 -0.13 439.65 180.7)" fill="#f78212"/><circle r="2.49" transform="matrix(0.35 0.27 0.58 -0.13 439.65 180.12)" fill="#f8890c"/><circle r="2.4" transform="matrix(0.35 0.27 0.58 -0.13 439.65 179.54)" fill="#fa9207"/><circle r="2.31" transform="matrix(0.35 0.27 0.58 -0.13 439.65 178.96)" fill="#fb9906"/><circle r="2.21" transform="matrix(0.35 0.27 0.58 -0.13 439.65 178.37)" fill="#fca309"/><circle r="2.11" transform="matrix(0.35 0.27 0.58 -0.13 439.65 177.79)" fill="#fcac11"/><circle r="2.01" transform="matrix(0.35 0.27 0.58 -0.13 439.65 177.21)" fill="#fcb418"/><circle r="1.9" transform="matrix(0.35 0.27 0.58 -0.13 439.65 176.63)" fill="#fbbe23"/><circle r="1.78" transform="matrix(0.35 0.27 0.58 -0.13 439.65 176.05)" fill="#fac62d"/><circle r="1.66" transform="matrix(0.35 0.27 0.58 -0.13 439.65 175.46)" fill="#f8cf3a"/><circle r="1.54" transform="matrix(0.35 0.27 0.58 -0.13 439.65 174.88)" fill="#f6d746"/><circle r="1.4" transform="matrix(0.35 0.27 0.58 -0.13 439.65 174.3)" fill="#f4e156"/><circle r="1.24" transform="matrix(0.35 0.27 0.58 -0.13 439.65 173.72)" fill="#f2ea69"/><circle r="1.06" transform="matrix(0.35 0.27 0.58 -0.13 439.65 173.14)" fill="#f1f179"/><circle r="0.84" transform="matrix(0.35 0.27 0.58 -0.13 439.65 172.55)" fill="#f4f88e"/><circle r="0.51" transform="matrix(0.35 0.27 0.58 -0.13 439.65 171.97)" fill="#f9fc9d"/></g><polygon points="397.5,149.33 426.4,171.98 481.8,160.03 452.9,137.38" fill="#000004"/><g clip-path="url(#ct12)"><circle r="11.66" transform="matrix(0.35 0.27 0.58 -0.13 439.65 154.68)" fill="url(#rg12)"/></g><text x="394.8" y="199.53" font-size="4.3" font-family='"Liberation Sans", sans-serif' text-anchor="end" fill="#333">0</text><text x="394.8" y="182.98" font-size="4.3" font-family='"Liberation Sans", sans-serif' text-anchor="end" fill="#333">0.5</text><text x="394.8" y="166.43" font-size="4.3" font-family='"Liberation Sans", sans-serif' text-anchor="end" fill="#333">1</text><text x="398.82" y="207.9" font-size="4.3" font-family='"Liberation Sans", sans-serif' text-anchor="end" fill="#333">0.01</text><text x="408.45" y="215.45" font-size="4.3" font-family='"Liberation Sans", sans-serif' text-anchor="end" fill="#333">0</text><text x="418.08" y="223" font-size="4.3" font-family='"Liberation Sans", sans-serif' text-anchor="end" fill="#333">-0.01</text><text x="438.53" y="226.19" font-size="4.3" font-family='"Liberation Sans", sans-serif' text-anchor="start" fill="#333">-0.01</text><text x="457" y="222.2" font-size="4.3" font-family='"Liberation Sans", sans-serif' text-anchor="start" fill="#333">0</text><text x="475.47" y="218.22" font-size="4.3" font-family='"Liberation Sans", sans-serif' text-anchor="start" fill="#333">0.01</text><text x="380.5" y="220.7" font-size="5.6" font-family='"Liberation Serif", serif' text-anchor="start" fill="#333" font-style="italic" textLength="23.3" lengthAdjust="spacingAndGlyphs">sinθsinφ</text><text x="454.1" y="228.6" font-size="5.6" font-family='"Liberation Serif", serif' text-anchor="start" fill="#333" font-style="italic" textLength="24.3" lengthAdjust="spacingAndGlyphs">sinθcosφ</text><text transform="translate(386.6 175.9) rotate(-90)" font-size="6.2" font-family='"Liberation Serif", serif' font-style="italic" text-anchor="middle" textLength="41" lengthAdjust="spacingAndGlyphs" fill="#444">E (Normalized)</text><text x="379.6" y="148.2" font-size="12.5" font-family='"Liberation Serif", serif' text-anchor="start" fill="#222" stroke="#222" stroke-width="0.25">(f)</text><rect x="396.6" y="233.6" width="85.6" height="6.2" fill="url(#cb)"/><text x="413.9" y="247.9" font-size="5.4" font-family='"Liberation Sans", sans-serif' text-anchor="middle" fill="#333">0.2</text><text x="431" y="247.9" font-size="5.4" font-family='"Liberation Sans", sans-serif' text-anchor="middle" fill="#333">0.4</text><text x="448.1" y="247.9" font-size="5.4" font-family='"Liberation Sans", sans-serif' text-anchor="middle" fill="#333">0.6</text><text x="465.2" y="247.9" font-size="5.4" font-family='"Liberation Sans", sans-serif' text-anchor="middle" fill="#333">0.8</text><text x="482.3" y="247.9" font-size="5.4" font-family='"Liberation Sans", sans-serif' text-anchor="middle" fill="#333">1</text><path d="M501.5,218.6L501.5,174.6M518.2,218.6L518.2,174.6M534.9,218.6L534.9,174.6M492.2,209.8L543.8,209.8M492.2,201L543.8,201M492.2,192.2L543.8,192.2M492.2,183.4L543.8,183.4M492.2,174.6L543.8,174.6" stroke="#efefef" stroke-width="0.5" fill="none"/><path d="M493.2,218.6L493.2,218.6L493.45,218.6L493.7,218.6L493.95,218.6L494.2,218.6L494.45,218.6L494.7,218.6L494.95,218.6L495.2,218.6L495.45,218.6L495.7,218.6L495.95,218.6L496.2,218.6L496.45,218.6L496.7,218.6L496.95,218.6L497.2,218.6L497.45,218.6L497.7,218.6L497.95,218.6L498.2,218.6L498.45,218.6L498.7,218.6L498.95,218.6L499.2,218.6L499.45,218.6L499.7,218.6L499.95,218.6L500.2,218.6L500.45,218.6L500.7,218.6L500.95,218.6L501.2,218.6L501.45,218.6L501.7,218.6L501.95,218.6L502.2,218.6L502.45,218.6L502.7,218.6L502.95,218.6L503.2,218.6L503.45,218.6L503.7,218.6L503.95,218.6L504.2,218.6L504.45,218.6L504.7,218.6L504.95,218.6L505.2,218.6L505.45,218.6L505.7,218.6L505.95,218.6L506.2,218.6L506.45,218.6L506.7,218.6L506.95,218.6L507.2,218.6L507.45,218.6L507.7,218.6L507.95,218.6L508.2,218.6L508.45,218.6L508.7,218.6L508.95,218.6L509.2,218.6L509.45,218.6L509.7,218.6L509.95,218.6L510.2,218.6L510.45,218.6L510.7,218.6L510.95,218.6L511.2,218.6L511.45,218.6L511.7,218.6L511.95,218.6L512.2,218.6L512.45,218.6L512.7,218.6L512.95,218.59L513.2,218.58L513.45,218.55L513.7,218.49L513.95,218.38L514.2,218.17L514.45,217.8L514.7,217.19L514.95,216.24L515.2,214.82L515.45,212.8L515.7,210.09L515.95,206.64L516.2,202.5L516.45,197.81L516.7,192.8L516.95,187.83L517.2,183.25L517.45,179.43L517.7,176.65L517.95,175.05L518.2,174.6L518.45,175.05L518.7,176.65L518.95,179.43L519.2,183.25L519.45,187.83L519.7,192.8L519.95,197.81L520.2,202.5L520.45,206.64L520.7,210.09L520.95,212.8L521.2,214.82L521.45,216.24L521.7,217.19L521.95,217.8L522.2,218.17L522.45,218.38L522.7,218.49L522.95,218.55L523.2,218.58L523.45,218.59L523.7,218.6L523.95,218.6L524.2,218.6L524.45,218.6L524.7,218.6L524.95,218.6L525.2,218.6L525.45,218.6L525.7,218.6L525.95,218.6L526.2,218.6L526.45,218.6L526.7,218.6L526.95,218.6L527.2,218.6L527.45,218.6L527.7,218.6L527.95,218.6L528.2,218.6L528.45,218.6L528.7,218.6L528.95,218.6L529.2,218.6L529.45,218.6L529.7,218.6L529.95,218.6L530.2,218.6L530.45,218.6L530.7,218.6L530.95,218.6L531.2,218.6L531.45,218.6L531.7,218.6L531.95,218.6L532.2,218.6L532.45,218.6L532.7,218.6L532.95,218.6L533.2,218.6L533.45,218.6L533.7,218.6L533.95,218.6L534.2,218.6L534.45,218.6L534.7,218.6L534.95,218.6L535.2,218.6L535.45,218.6L535.7,218.6L535.95,218.6L536.2,218.6L536.45,218.6L536.7,218.6L536.95,218.6L537.2,218.6L537.45,218.6L537.7,218.6L537.95,218.6L538.2,218.6L538.45,218.6L538.7,218.6L538.95,218.6L539.2,218.6L539.45,218.6L539.7,218.6L539.95,218.6L540.2,218.6L540.45,218.6L540.7,218.6L540.95,218.6L541.2,218.6L541.45,218.6L541.7,218.6L541.95,218.6L542.2,218.6L542.45,218.6L542.7,218.6L542.95,218.6L543.2,218.6L543.2,218.6Z" fill="url(#g212)"/><path d="M492.2,174.6L492.2,218.6L543.8,218.6M492.2,218.6L493.2,218.6M492.2,209.8L493.2,209.8M492.2,201L493.2,201M492.2,192.2L493.2,192.2M492.2,183.4L493.2,183.4M492.2,174.6L493.2,174.6M501.5,218.6L501.5,217.6M518.2,218.6L518.2,217.6M534.9,218.6L534.9,217.6M494.82,218.6L494.82,218M498.16,218.6L498.16,218M501.5,218.6L501.5,218M504.84,218.6L504.84,218M508.18,218.6L508.18,218M511.52,218.6L511.52,218M514.86,218.6L514.86,218M518.2,218.6L518.2,218M521.54,218.6L521.54,218M524.88,218.6L524.88,218M528.22,218.6L528.22,218M531.56,218.6L531.56,218M534.9,218.6L534.9,218M538.24,218.6L538.24,218M541.58,218.6L541.58,218" stroke="#8c8c8c" stroke-width="0.5" fill="none"/><text x="490.9" y="220.2" font-size="4.3" font-family='"Liberation Sans", sans-serif' text-anchor="end" fill="#333">0</text><text x="490.9" y="211.4" font-size="4.3" font-family='"Liberation Sans", sans-serif' text-anchor="end" fill="#333">0.2</text><text x="490.9" y="202.6" font-size="4.3" font-family='"Liberation Sans", sans-serif' text-anchor="end" fill="#333">0.4</text><text x="490.9" y="193.8" font-size="4.3" font-family='"Liberation Sans", sans-serif' text-anchor="end" fill="#333">0.6</text><text x="490.9" y="185" font-size="4.3" font-family='"Liberation Sans", sans-serif' text-anchor="end" fill="#333">0.8</text><text x="490.9" y="176.2" font-size="4.3" font-family='"Liberation Sans", sans-serif' text-anchor="end" fill="#333">1</text><text x="501.5" y="225.6" font-size="4.3" font-family='"Liberation Sans", sans-serif' text-anchor="middle" fill="#333">-0.01</text><text x="518.2" y="225.6" font-size="4.3" font-family='"Liberation Sans", sans-serif' text-anchor="middle" fill="#333">0</text><text x="534.9" y="225.6" font-size="4.3" font-family='"Liberation Sans", sans-serif' text-anchor="middle" fill="#333">0.01</text></g><g><path d="M29.7,326.93L85.1,314.98M85.1,314.98L114,337.63M29.7,310.38L85.1,298.43M85.1,298.43L114,321.08M29.7,293.83L85.1,281.88M85.1,281.88L114,304.53M29.7,277.28L85.1,265.33M85.1,265.33L114,287.98M38.93,324.94L38.93,275.34M89.92,318.75L89.92,269.15M57.4,320.95L57.4,271.35M99.55,326.3L99.55,276.7M75.87,316.97L75.87,267.37M109.18,333.85L109.18,284.25M85.1,314.98L85.1,265.38" stroke="#f1f1f1" stroke-width="0.5" fill="none"/><path d="M29.7,277.33L29.7,326.93M29.7,326.93L58.6,349.58L114,337.63" stroke="#8a8a8a" stroke-width="0.5" fill="none"/><path d="M29.7,326.93L28.5,327.43M29.7,310.38L28.5,310.88M29.7,293.83L28.5,294.33" stroke="#8a8a8a" stroke-width="0.5" fill="none"/><polygon points="29.7,326.93 58.6,349.58 114,337.63 85.1,314.98" fill="#000004"/><g><circle r="35" transform="matrix(0.29 0.23 0.61 -0.13 71.85 331.99)" fill="#010106"/><circle r="31.03" transform="matrix(0.29 0.23 0.61 -0.13 71.85 331.41)" fill="#02020e"/><circle r="28.95" transform="matrix(0.29 0.23 0.61 -0.13 71.85 330.82)" fill="#060419"/><circle r="27.49" transform="matrix(0.29 0.23 0.61 -0.13 71.85 330.24)" fill="#0b0724"/><circle r="26.32" transform="matrix(0.29 0.23 0.61 -0.13 71.85 329.66)" fill="#10092d"/><circle r="25.35" transform="matrix(0.29 0.23 0.61 -0.13 71.85 329.08)" fill="#160b39"/><circle r="24.5" transform="matrix(0.29 0.23 0.61 -0.13 71.85 328.5)" fill="#1c0c43"/><circle r="23.75" transform="matrix(0.29 0.23 0.61 -0.13 71.85 327.91)" fill="#240c4f"/><circle r="23.07" transform="matrix(0.29 0.23 0.61 -0.13 71.85 327.33)" fill="#2b0b57"/><circle r="22.44" transform="matrix(0.29 0.23 0.61 -0.13 71.85 326.75)" fill="#340a5f"/><circle r="21.85" transform="matrix(0.29 0.23 0.61 -0.13 71.85 326.17)" fill="#3d0965"/><circle r="21.3" transform="matrix(0.29 0.23 0.61 -0.13 71.85 325.59)" fill="#440a68"/><circle r="20.79" transform="matrix(0.29 0.23 0.61 -0.13 71.85 325)" fill="#4c0c6b"/><circle r="20.29" transform="matrix(0.29 0.23 0.61 -0.13 71.85 324.42)" fill="#520e6d"/><circle r="19.83" transform="matrix(0.29 0.23 0.61 -0.13 71.85 323.84)" fill="#5a116e"/><circle r="19.37" transform="matrix(0.29 0.23 0.61 -0.13 71.85 323.26)" fill="#61136e"/><circle r="18.94" transform="matrix(0.29 0.23 0.61 -0.13 71.85 322.67)" fill="#69166e"/><circle r="18.52" transform="matrix(0.29 0.23 0.61 -0.13 71.85 322.09)" fill="#71196e"/><circle r="18.11" transform="matrix(0.29 0.23 0.61 -0.13 71.85 321.51)" fill="#771c6d"/><circle r="17.72" transform="matrix(0.29 0.23 0.61 -0.13 71.85 320.93)" fill="#7f1e6c"/><circle r="17.33" transform="matrix(0.29 0.23 0.61 -0.13 71.85 320.35)" fill="#85216b"/><circle r="16.95" transform="matrix(0.29 0.23 0.61 -0.13 71.85 319.76)" fill="#8d2369"/><circle r="16.58" transform="matrix(0.29 0.23 0.61 -0.13 71.85 319.18)" fill="#932667"/><circle r="16.22" transform="matrix(0.29 0.23 0.61 -0.13 71.85 318.6)" fill="#9b2964"/><circle r="15.86" transform="matrix(0.29 0.23 0.61 -0.13 71.85 318.02)" fill="#a32c61"/><circle r="15.5" transform="matrix(0.29 0.23 0.61 -0.13 71.85 317.44)" fill="#a92e5e"/><circle r="15.15" transform="matrix(0.29 0.23 0.61 -0.13 71.85 316.85)" fill="#b1325a"/><circle r="14.81" transform="matrix(0.29 0.23 0.61 -0.13 71.85 316.27)" fill="#b73557"/><circle r="14.47" transform="matrix(0.29 0.23 0.61 -0.13 71.85 315.69)" fill="#bf3952"/><circle r="14.13" transform="matrix(0.29 0.23 0.61 -0.13 71.85 315.11)" fill="#c43c4e"/><circle r="13.79" transform="matrix(0.29 0.23 0.61 -0.13 71.85 314.52)" fill="#cb4149"/><circle r="13.45" transform="matrix(0.29 0.23 0.61 -0.13 71.85 313.94)" fill="#d24644"/><circle r="13.11" transform="matrix(0.29 0.23 0.61 -0.13 71.85 313.36)" fill="#d74b3f"/><circle r="12.77" transform="matrix(0.29 0.23 0.61 -0.13 71.85 312.78)" fill="#dd513a"/><circle r="12.44" transform="matrix(0.29 0.23 0.61 -0.13 71.85 312.2)" fill="#e15635"/><circle r="12.1" transform="matrix(0.29 0.23 0.61 -0.13 71.85 311.61)" fill="#e65d2f"/><circle r="11.76" transform="matrix(0.29 0.23 0.61 -0.13 71.85 311.03)" fill="#ea632a"/><circle r="11.41" transform="matrix(0.29 0.23 0.61 -0.13 71.85 310.45)" fill="#ee6a24"/><circle r="11.07" transform="matrix(0.29 0.23 0.61 -0.13 71.85 309.87)" fill="#f1731d"/><circle r="10.72" transform="matrix(0.29 0.23 0.61 -0.13 71.85 309.29)" fill="#f47918"/><circle r="10.36" transform="matrix(0.29 0.23 0.61 -0.13 71.85 308.7)" fill="#f78212"/><circle r="10" transform="matrix(0.29 0.23 0.61 -0.13 71.85 308.12)" fill="#f8890c"/><circle r="9.63" transform="matrix(0.29 0.23 0.61 -0.13 71.85 307.54)" fill="#fa9207"/><circle r="9.25" transform="matrix(0.29 0.23 0.61 -0.13 71.85 306.96)" fill="#fb9906"/><circle r="8.86" transform="matrix(0.29 0.23 0.61 -0.13 71.85 306.37)" fill="#fca309"/><circle r="8.46" transform="matrix(0.29 0.23 0.61 -0.13 71.85 305.79)" fill="#fcac11"/><circle r="8.05" transform="matrix(0.29 0.23 0.61 -0.13 71.85 305.21)" fill="#fcb418"/><circle r="7.61" transform="matrix(0.29 0.23 0.61 -0.13 71.85 304.63)" fill="#fbbe23"/><circle r="7.16" transform="matrix(0.29 0.23 0.61 -0.13 71.85 304.05)" fill="#fac62d"/><circle r="6.68" transform="matrix(0.29 0.23 0.61 -0.13 71.85 303.46)" fill="#f8cf3a"/><circle r="6.16" transform="matrix(0.29 0.23 0.61 -0.13 71.85 302.88)" fill="#f6d746"/><circle r="5.6" transform="matrix(0.29 0.23 0.61 -0.13 71.85 302.3)" fill="#f4e156"/><circle r="4.98" transform="matrix(0.29 0.23 0.61 -0.13 71.85 301.72)" fill="#f2ea69"/><circle r="4.25" transform="matrix(0.29 0.23 0.61 -0.13 71.85 301.14)" fill="#f1f179"/><circle r="3.36" transform="matrix(0.29 0.23 0.61 -0.13 71.85 300.55)" fill="#f4f88e"/><circle r="2.03" transform="matrix(0.29 0.23 0.61 -0.13 71.85 299.97)" fill="#f9fc9d"/></g><polygon points="29.7,277.33 58.6,299.98 114,288.03 85.1,265.38" fill="#000004"/><g clip-path="url(#ct20)"><circle r="46.8" transform="matrix(0.29 0.23 0.61 -0.13 71.85 282.68)" fill="url(#rg20)"/></g><text x="27" y="327.53" font-size="4.3" font-family='"Liberation Sans", sans-serif' text-anchor="end" fill="#333">0</text><text x="27" y="310.98" font-size="4.3" font-family='"Liberation Sans", sans-serif' text-anchor="end" fill="#333">0.5</text><text x="27" y="294.43" font-size="4.3" font-family='"Liberation Sans", sans-serif' text-anchor="end" fill="#333">1</text><text x="31.02" y="335.9" font-size="4.3" font-family='"Liberation Sans", sans-serif' text-anchor="end" fill="#333">0.01</text><text x="40.65" y="343.45" font-size="4.3" font-family='"Liberation Sans", sans-serif' text-anchor="end" fill="#333">0</text><text x="50.28" y="351" font-size="4.3" font-family='"Liberation Sans", sans-serif' text-anchor="end" fill="#333">-0.01</text><text x="70.73" y="354.19" font-size="4.3" font-family='"Liberation Sans", sans-serif' text-anchor="start" fill="#333">-0.01</text><text x="89.2" y="350.2" font-size="4.3" font-family='"Liberation Sans", sans-serif' text-anchor="start" fill="#333">0</text><text x="107.67" y="346.22" font-size="4.3" font-family='"Liberation Sans", sans-serif' text-anchor="start" fill="#333">0.01</text><text x="12.7" y="348.7" font-size="5.6" font-family='"Liberation Serif", serif' text-anchor="start" fill="#333" font-style="italic" textLength="23.3" lengthAdjust="spacingAndGlyphs">sinθsinφ</text><text x="86.3" y="356.6" font-size="5.6" font-family='"Liberation Serif", serif' text-anchor="start" fill="#333" font-style="italic" textLength="24.3" lengthAdjust="spacingAndGlyphs">sinθcosφ</text><text transform="translate(18.8 303.9) rotate(-90)" font-size="6.2" font-family='"Liberation Serif", serif' font-style="italic" text-anchor="middle" textLength="41" lengthAdjust="spacingAndGlyphs" fill="#444">E (Normalized)</text><text x="11.8" y="276.2" font-size="12.5" font-family='"Liberation Serif", serif' text-anchor="start" fill="#222" stroke="#222" stroke-width="0.25">(g)</text><rect x="28.8" y="361.6" width="85.6" height="6.2" fill="url(#cb)"/><text x="46.1" y="375.9" font-size="5.4" font-family='"Liberation Sans", sans-serif' text-anchor="middle" fill="#333">0.2</text><text x="63.2" y="375.9" font-size="5.4" font-family='"Liberation Sans", sans-serif' text-anchor="middle" fill="#333">0.4</text><text x="80.3" y="375.9" font-size="5.4" font-family='"Liberation Sans", sans-serif' text-anchor="middle" fill="#333">0.6</text><text x="97.4" y="375.9" font-size="5.4" font-family='"Liberation Sans", sans-serif' text-anchor="middle" fill="#333">0.8</text><text x="114.5" y="375.9" font-size="5.4" font-family='"Liberation Sans", sans-serif' text-anchor="middle" fill="#333">1</text><path d="M133.3,346.4L133.3,302.4M150,346.4L150,302.4M166.7,346.4L166.7,302.4M124,337.6L175.6,337.6M124,328.8L175.6,328.8M124,320L175.6,320M124,311.2L175.6,311.2M124,302.4L175.6,302.4" stroke="#efefef" stroke-width="0.5" fill="none"/><path d="M125,346.4L125,346.4L125.25,346.4L125.5,346.4L125.75,346.4L126,346.4L126.25,346.4L126.5,346.39L126.75,346.39L127,346.39L127.25,346.39L127.5,346.39L127.75,346.39L128,346.38L128.25,346.38L128.5,346.37L128.75,346.37L129,346.36L129.25,346.35L129.5,346.34L129.75,346.33L130,346.32L130.25,346.31L130.5,346.29L130.75,346.27L131,346.25L131.25,346.22L131.5,346.19L131.75,346.15L132,346.11L132.25,346.06L132.5,346.01L132.75,345.94L133,345.87L133.25,345.79L133.5,345.7L133.75,345.6L134,345.49L134.25,345.36L134.5,345.21L134.75,345.05L135,344.87L135.25,344.68L135.5,344.46L135.75,344.22L136,343.95L136.25,343.66L136.5,343.34L136.75,342.99L137,342.62L137.25,342.21L137.5,341.77L137.75,341.29L138,340.78L138.25,340.23L138.5,339.64L138.75,339.02L139,338.35L139.25,337.65L139.5,336.91L139.75,336.13L140,335.3L140.25,334.44L140.5,333.55L140.75,332.61L141,331.64L141.25,330.64L141.5,329.61L141.75,328.55L142,327.46L142.25,326.36L142.5,325.23L142.75,324.09L143,322.93L143.25,321.77L143.5,320.6L143.75,319.44L144,318.28L144.25,317.13L144.5,316L144.75,314.89L145,313.8L145.25,312.74L145.5,311.71L145.75,310.72L146,309.78L146.25,308.88L146.5,308.03L146.75,307.23L147,306.49L147.25,305.8L147.5,305.18L147.75,304.62L148,304.12L148.25,303.69L148.5,303.32L148.75,303.02L149,302.78L149.25,302.6L149.5,302.48L149.75,302.42L150,302.4L150.25,302.42L150.5,302.48L150.75,302.6L151,302.78L151.25,303.02L151.5,303.32L151.75,303.69L152,304.12L152.25,304.62L152.5,305.18L152.75,305.8L153,306.49L153.25,307.23L153.5,308.03L153.75,308.88L154,309.78L154.25,310.72L154.5,311.71L154.75,312.74L155,313.8L155.25,314.89L155.5,316L155.75,317.13L156,318.28L156.25,319.44L156.5,320.6L156.75,321.77L157,322.93L157.25,324.09L157.5,325.23L157.75,326.36L158,327.46L158.25,328.55L158.5,329.61L158.75,330.64L159,331.64L159.25,332.61L159.5,333.55L159.75,334.44L160,335.3L160.25,336.13L160.5,336.91L160.75,337.65L161,338.35L161.25,339.02L161.5,339.64L161.75,340.23L162,340.78L162.25,341.29L162.5,341.77L162.75,342.21L163,342.62L163.25,342.99L163.5,343.34L163.75,343.66L164,343.95L164.25,344.22L164.5,344.46L164.75,344.68L165,344.87L165.25,345.05L165.5,345.21L165.75,345.36L166,345.49L166.25,345.6L166.5,345.7L166.75,345.79L167,345.87L167.25,345.94L167.5,346.01L167.75,346.06L168,346.11L168.25,346.15L168.5,346.19L168.75,346.22L169,346.25L169.25,346.27L169.5,346.29L169.75,346.31L170,346.32L170.25,346.33L170.5,346.34L170.75,346.35L171,346.36L171.25,346.37L171.5,346.37L171.75,346.38L172,346.38L172.25,346.39L172.5,346.39L172.75,346.39L173,346.39L173.25,346.39L173.5,346.39L173.75,346.4L174,346.4L174.25,346.4L174.5,346.4L174.75,346.4L175,346.4L175,346.4Z" fill="url(#g220)"/><path d="M124,302.4L124,346.4L175.6,346.4M124,346.4L125,346.4M124,337.6L125,337.6M124,328.8L125,328.8M124,320L125,320M124,311.2L125,311.2M124,302.4L125,302.4M133.3,346.4L133.3,345.4M150,346.4L150,345.4M166.7,346.4L166.7,345.4M126.62,346.4L126.62,345.8M129.96,346.4L129.96,345.8M133.3,346.4L133.3,345.8M136.64,346.4L136.64,345.8M139.98,346.4L139.98,345.8M143.32,346.4L143.32,345.8M146.66,346.4L146.66,345.8M150,346.4L150,345.8M153.34,346.4L153.34,345.8M156.68,346.4L156.68,345.8M160.02,346.4L160.02,345.8M163.36,346.4L163.36,345.8M166.7,346.4L166.7,345.8M170.04,346.4L170.04,345.8M173.38,346.4L173.38,345.8" stroke="#8c8c8c" stroke-width="0.5" fill="none"/><text x="122.7" y="348" font-size="4.3" font-family='"Liberation Sans", sans-serif' text-anchor="end" fill="#333">0</text><text x="122.7" y="339.2" font-size="4.3" font-family='"Liberation Sans", sans-serif' text-anchor="end" fill="#333">0.2</text><text x="122.7" y="330.4" font-size="4.3" font-family='"Liberation Sans", sans-serif' text-anchor="end" fill="#333">0.4</text><text x="122.7" y="321.6" font-size="4.3" font-family='"Liberation Sans", sans-serif' text-anchor="end" fill="#333">0.6</text><text x="122.7" y="312.8" font-size="4.3" font-family='"Liberation Sans", sans-serif' text-anchor="end" fill="#333">0.8</text><text x="122.7" y="304" font-size="4.3" font-family='"Liberation Sans", sans-serif' text-anchor="end" fill="#333">1</text><text x="133.3" y="353.4" font-size="4.3" font-family='"Liberation Sans", sans-serif' text-anchor="middle" fill="#333">-0.01</text><text x="150" y="353.4" font-size="4.3" font-family='"Liberation Sans", sans-serif' text-anchor="middle" fill="#333">0</text><text x="166.7" y="353.4" font-size="4.3" font-family='"Liberation Sans", sans-serif' text-anchor="middle" fill="#333">0.01</text></g><g><path d="M212.2,326.93L267.6,314.98M267.6,314.98L296.5,337.63M212.2,310.38L267.6,298.43M267.6,298.43L296.5,321.08M212.2,293.83L267.6,281.88M267.6,281.88L296.5,304.53M212.2,277.28L267.6,265.33M267.6,265.33L296.5,287.98M221.43,324.94L221.43,275.34M272.42,318.75L272.42,269.15M239.9,320.95L239.9,271.35M282.05,326.3L282.05,276.7M258.37,316.97L258.37,267.37M291.68,333.85L291.68,284.25M267.6,314.98L267.6,265.38" stroke="#f1f1f1" stroke-width="0.5" fill="none"/><path d="M212.2,277.33L212.2,326.93M212.2,326.93L241.1,349.58L296.5,337.63" stroke="#8a8a8a" stroke-width="0.5" fill="none"/><path d="M212.2,326.93L211,327.43M212.2,310.38L211,310.88M212.2,293.83L211,294.33" stroke="#8a8a8a" stroke-width="0.5" fill="none"/><polygon points="212.2,326.93 241.1,349.58 296.5,337.63 267.6,314.98" fill="#000004"/><g><circle r="11.64" transform="matrix(0.33 0.26 0.58 -0.13 254.35 331.99)" fill="#010106"/><circle r="10.32" transform="matrix(0.33 0.26 0.58 -0.13 254.35 331.41)" fill="#02020e"/><circle r="9.63" transform="matrix(0.33 0.26 0.58 -0.13 254.35 330.82)" fill="#060419"/><circle r="9.14" transform="matrix(0.33 0.26 0.58 -0.13 254.35 330.24)" fill="#0b0724"/><circle r="8.76" transform="matrix(0.33 0.26 0.58 -0.13 254.35 329.66)" fill="#10092d"/><circle r="8.43" transform="matrix(0.33 0.26 0.58 -0.13 254.35 329.08)" fill="#160b39"/><circle r="8.15" transform="matrix(0.33 0.26 0.58 -0.13 254.35 328.5)" fill="#1c0c43"/><circle r="7.9" transform="matrix(0.33 0.26 0.58 -0.13 254.35 327.91)" fill="#240c4f"/><circle r="7.67" transform="matrix(0.33 0.26 0.58 -0.13 254.35 327.33)" fill="#2b0b57"/><circle r="7.46" transform="matrix(0.33 0.26 0.58 -0.13 254.35 326.75)" fill="#340a5f"/><circle r="7.27" transform="matrix(0.33 0.26 0.58 -0.13 254.35 326.17)" fill="#3d0965"/><circle r="7.09" transform="matrix(0.33 0.26 0.58 -0.13 254.35 325.59)" fill="#440a68"/><circle r="6.91" transform="matrix(0.33 0.26 0.58 -0.13 254.35 325)" fill="#4c0c6b"/><circle r="6.75" transform="matrix(0.33 0.26 0.58 -0.13 254.35 324.42)" fill="#520e6d"/><circle r="6.59" transform="matrix(0.33 0.26 0.58 -0.13 254.35 323.84)" fill="#5a116e"/><circle r="6.44" transform="matrix(0.33 0.26 0.58 -0.13 254.35 323.26)" fill="#61136e"/><circle r="6.3" transform="matrix(0.33 0.26 0.58 -0.13 254.35 322.67)" fill="#69166e"/><circle r="6.16" transform="matrix(0.33 0.26 0.58 -0.13 254.35 322.09)" fill="#71196e"/><circle r="6.02" transform="matrix(0.33 0.26 0.58 -0.13 254.35 321.51)" fill="#771c6d"/><circle r="5.89" transform="matrix(0.33 0.26 0.58 -0.13 254.35 320.93)" fill="#7f1e6c"/><circle r="5.76" transform="matrix(0.33 0.26 0.58 -0.13 254.35 320.35)" fill="#85216b"/><circle r="5.64" transform="matrix(0.33 0.26 0.58 -0.13 254.35 319.76)" fill="#8d2369"/><circle r="5.51" transform="matrix(0.33 0.26 0.58 -0.13 254.35 319.18)" fill="#932667"/><circle r="5.39" transform="matrix(0.33 0.26 0.58 -0.13 254.35 318.6)" fill="#9b2964"/><circle r="5.27" transform="matrix(0.33 0.26 0.58 -0.13 254.35 318.02)" fill="#a32c61"/><circle r="5.16" transform="matrix(0.33 0.26 0.58 -0.13 254.35 317.44)" fill="#a92e5e"/><circle r="5.04" transform="matrix(0.33 0.26 0.58 -0.13 254.35 316.85)" fill="#b1325a"/><circle r="4.93" transform="matrix(0.33 0.26 0.58 -0.13 254.35 316.27)" fill="#b73557"/><circle r="4.81" transform="matrix(0.33 0.26 0.58 -0.13 254.35 315.69)" fill="#bf3952"/><circle r="4.7" transform="matrix(0.33 0.26 0.58 -0.13 254.35 315.11)" fill="#c43c4e"/><circle r="4.59" transform="matrix(0.33 0.26 0.58 -0.13 254.35 314.52)" fill="#cb4149"/><circle r="4.47" transform="matrix(0.33 0.26 0.58 -0.13 254.35 313.94)" fill="#d24644"/><circle r="4.36" transform="matrix(0.33 0.26 0.58 -0.13 254.35 313.36)" fill="#d74b3f"/><circle r="4.25" transform="matrix(0.33 0.26 0.58 -0.13 254.35 312.78)" fill="#dd513a"/><circle r="4.14" transform="matrix(0.33 0.26 0.58 -0.13 254.35 312.2)" fill="#e15635"/><circle r="4.02" transform="matrix(0.33 0.26 0.58 -0.13 254.35 311.61)" fill="#e65d2f"/><circle r="3.91" transform="matrix(0.33 0.26 0.58 -0.13 254.35 311.03)" fill="#ea632a"/><circle r="3.8" transform="matrix(0.33 0.26 0.58 -0.13 254.35 310.45)" fill="#ee6a24"/><circle r="3.68" transform="matrix(0.33 0.26 0.58 -0.13 254.35 309.87)" fill="#f1731d"/><circle r="3.56" transform="matrix(0.33 0.26 0.58 -0.13 254.35 309.29)" fill="#f47918"/><circle r="3.45" transform="matrix(0.33 0.26 0.58 -0.13 254.35 308.7)" fill="#f78212"/><circle r="3.33" transform="matrix(0.33 0.26 0.58 -0.13 254.35 308.12)" fill="#f8890c"/><circle r="3.2" transform="matrix(0.33 0.26 0.58 -0.13 254.35 307.54)" fill="#fa9207"/><circle r="3.08" transform="matrix(0.33 0.26 0.58 -0.13 254.35 306.96)" fill="#fb9906"/><circle r="2.95" transform="matrix(0.33 0.26 0.58 -0.13 254.35 306.37)" fill="#fca309"/><circle r="2.81" transform="matrix(0.33 0.26 0.58 -0.13 254.35 305.79)" fill="#fcac11"/><circle r="2.68" transform="matrix(0.33 0.26 0.58 -0.13 254.35 305.21)" fill="#fcb418"/><circle r="2.53" transform="matrix(0.33 0.26 0.58 -0.13 254.35 304.63)" fill="#fbbe23"/><circle r="2.38" transform="matrix(0.33 0.26 0.58 -0.13 254.35 304.05)" fill="#fac62d"/><circle r="2.22" transform="matrix(0.33 0.26 0.58 -0.13 254.35 303.46)" fill="#f8cf3a"/><circle r="2.05" transform="matrix(0.33 0.26 0.58 -0.13 254.35 302.88)" fill="#f6d746"/><circle r="1.86" transform="matrix(0.33 0.26 0.58 -0.13 254.35 302.3)" fill="#f4e156"/><circle r="1.65" transform="matrix(0.33 0.26 0.58 -0.13 254.35 301.72)" fill="#f2ea69"/><circle r="1.41" transform="matrix(0.33 0.26 0.58 -0.13 254.35 301.14)" fill="#f1f179"/><circle r="1.12" transform="matrix(0.33 0.26 0.58 -0.13 254.35 300.55)" fill="#f4f88e"/><circle r="0.67" transform="matrix(0.33 0.26 0.58 -0.13 254.35 299.97)" fill="#f9fc9d"/></g><polygon points="212.2,277.33 241.1,299.98 296.5,288.03 267.6,265.38" fill="#000004"/><g clip-path="url(#ct21)"><circle r="15.57" transform="matrix(0.33 0.26 0.58 -0.13 254.35 282.68)" fill="url(#rg21)"/></g><text x="209.5" y="327.53" font-size="4.3" font-family='"Liberation Sans", sans-serif' text-anchor="end" fill="#333">0</text><text x="209.5" y="310.98" font-size="4.3" font-family='"Liberation Sans", sans-serif' text-anchor="end" fill="#333">0.5</text><text x="209.5" y="294.43" font-size="4.3" font-family='"Liberation Sans", sans-serif' text-anchor="end" fill="#333">1</text><text x="213.52" y="335.9" font-size="4.3" font-family='"Liberation Sans", sans-serif' text-anchor="end" fill="#333">0.01</text><text x="223.15" y="343.45" font-size="4.3" font-family='"Liberation Sans", sans-serif' text-anchor="end" fill="#333">0</text><text x="232.78" y="351" font-size="4.3" font-family='"Liberation Sans", sans-serif' text-anchor="end" fill="#333">-0.01</text><text x="253.23" y="354.19" font-size="4.3" font-family='"Liberation Sans", sans-serif' text-anchor="start" fill="#333">-0.01</text><text x="271.7" y="350.2" font-size="4.3" font-family='"Liberation Sans", sans-serif' text-anchor="start" fill="#333">0</text><text x="290.17" y="346.22" font-size="4.3" font-family='"Liberation Sans", sans-serif' text-anchor="start" fill="#333">0.01</text><text x="195.2" y="348.7" font-size="5.6" font-family='"Liberation Serif", serif' text-anchor="start" fill="#333" font-style="italic" textLength="23.3" lengthAdjust="spacingAndGlyphs">sinθsinφ</text><text x="268.8" y="356.6" font-size="5.6" font-family='"Liberation Serif", serif' text-anchor="start" fill="#333" font-style="italic" textLength="24.3" lengthAdjust="spacingAndGlyphs">sinθcosφ</text><text transform="translate(201.3 303.9) rotate(-90)" font-size="6.2" font-family='"Liberation Serif", serif' font-style="italic" text-anchor="middle" textLength="41" lengthAdjust="spacingAndGlyphs" fill="#444">E (Normalized)</text><text x="194.3" y="276.2" font-size="12.5" font-family='"Liberation Serif", serif' text-anchor="start" fill="#222" stroke="#222" stroke-width="0.25">(h)</text><rect x="211.3" y="361.6" width="85.6" height="6.2" fill="url(#cb)"/><text x="228.6" y="375.9" font-size="5.4" font-family='"Liberation Sans", sans-serif' text-anchor="middle" fill="#333">0.2</text><text x="245.7" y="375.9" font-size="5.4" font-family='"Liberation Sans", sans-serif' text-anchor="middle" fill="#333">0.4</text><text x="262.8" y="375.9" font-size="5.4" font-family='"Liberation Sans", sans-serif' text-anchor="middle" fill="#333">0.6</text><text x="279.9" y="375.9" font-size="5.4" font-family='"Liberation Sans", sans-serif' text-anchor="middle" fill="#333">0.8</text><text x="297" y="375.9" font-size="5.4" font-family='"Liberation Sans", sans-serif' text-anchor="middle" fill="#333">1</text><path d="M316.6,346.4L316.6,302.4M333.3,346.4L333.3,302.4M350,346.4L350,302.4M307.3,337.6L358.9,337.6M307.3,328.8L358.9,328.8M307.3,320L358.9,320M307.3,311.2L358.9,311.2M307.3,302.4L358.9,302.4" stroke="#efefef" stroke-width="0.5" fill="none"/><path d="M308.3,346.4L308.3,346.4L308.55,346.4L308.8,346.4L309.05,346.4L309.3,346.4L309.55,346.4L309.8,346.4L310.05,346.4L310.3,346.4L310.55,346.4L310.8,346.4L311.05,346.4L311.3,346.4L311.55,346.4L311.8,346.4L312.05,346.4L312.3,346.4L312.55,346.4L312.8,346.4L313.05,346.4L313.3,346.4L313.55,346.4L313.8,346.4L314.05,346.4L314.3,346.4L314.55,346.4L314.8,346.4L315.05,346.4L315.3,346.4L315.55,346.4L315.8,346.4L316.05,346.4L316.3,346.4L316.55,346.4L316.8,346.4L317.05,346.4L317.3,346.4L317.55,346.4L317.8,346.4L318.05,346.4L318.3,346.4L318.55,346.4L318.8,346.4L319.05,346.4L319.3,346.4L319.55,346.4L319.8,346.4L320.05,346.4L320.3,346.4L320.55,346.4L320.8,346.4L321.05,346.4L321.3,346.4L321.55,346.4L321.8,346.4L322.05,346.4L322.3,346.4L322.55,346.4L322.8,346.4L323.05,346.4L323.3,346.4L323.55,346.4L323.8,346.4L324.05,346.4L324.3,346.4L324.55,346.4L324.8,346.39L325.05,346.39L325.3,346.38L325.55,346.37L325.8,346.35L326.05,346.32L326.3,346.28L326.55,346.21L326.8,346.11L327.05,345.95L327.3,345.74L327.55,345.44L327.8,345.03L328.05,344.48L328.3,343.75L328.55,342.83L328.8,341.67L329.05,340.24L329.3,338.53L329.55,336.51L329.8,334.2L330.05,331.6L330.3,328.76L330.55,325.71L330.8,322.54L331.05,319.32L331.3,316.14L331.55,313.12L331.8,310.34L332.05,307.89L332.3,305.84L332.55,304.26L332.8,303.17L333.05,302.57L333.3,302.4L333.55,302.57L333.8,303.17L334.05,304.26L334.3,305.84L334.55,307.89L334.8,310.34L335.05,313.12L335.3,316.14L335.55,319.32L335.8,322.54L336.05,325.71L336.3,328.76L336.55,331.6L336.8,334.2L337.05,336.51L337.3,338.53L337.55,340.24L337.8,341.67L338.05,342.83L338.3,343.75L338.55,344.48L338.8,345.03L339.05,345.44L339.3,345.74L339.55,345.95L339.8,346.11L340.05,346.21L340.3,346.28L340.55,346.32L340.8,346.35L341.05,346.37L341.3,346.38L341.55,346.39L341.8,346.39L342.05,346.4L342.3,346.4L342.55,346.4L342.8,346.4L343.05,346.4L343.3,346.4L343.55,346.4L343.8,346.4L344.05,346.4L344.3,346.4L344.55,346.4L344.8,346.4L345.05,346.4L345.3,346.4L345.55,346.4L345.8,346.4L346.05,346.4L346.3,346.4L346.55,346.4L346.8,346.4L347.05,346.4L347.3,346.4L347.55,346.4L347.8,346.4L348.05,346.4L348.3,346.4L348.55,346.4L348.8,346.4L349.05,346.4L349.3,346.4L349.55,346.4L349.8,346.4L350.05,346.4L350.3,346.4L350.55,346.4L350.8,346.4L351.05,346.4L351.3,346.4L351.55,346.4L351.8,346.4L352.05,346.4L352.3,346.4L352.55,346.4L352.8,346.4L353.05,346.4L353.3,346.4L353.55,346.4L353.8,346.4L354.05,346.4L354.3,346.4L354.55,346.4L354.8,346.4L355.05,346.4L355.3,346.4L355.55,346.4L355.8,346.4L356.05,346.4L356.3,346.4L356.55,346.4L356.8,346.4L357.05,346.4L357.3,346.4L357.55,346.4L357.8,346.4L358.05,346.4L358.3,346.4L358.3,346.4Z" fill="url(#g221)"/><path d="M307.3,302.4L307.3,346.4L358.9,346.4M307.3,346.4L308.3,346.4M307.3,337.6L308.3,337.6M307.3,328.8L308.3,328.8M307.3,320L308.3,320M307.3,311.2L308.3,311.2M307.3,302.4L308.3,302.4M316.6,346.4L316.6,345.4M333.3,346.4L333.3,345.4M350,346.4L350,345.4M309.92,346.4L309.92,345.8M313.26,346.4L313.26,345.8M316.6,346.4L316.6,345.8M319.94,346.4L319.94,345.8M323.28,346.4L323.28,345.8M326.62,346.4L326.62,345.8M329.96,346.4L329.96,345.8M333.3,346.4L333.3,345.8M336.64,346.4L336.64,345.8M339.98,346.4L339.98,345.8M343.32,346.4L343.32,345.8M346.66,346.4L346.66,345.8M350,346.4L350,345.8M353.34,346.4L353.34,345.8M356.68,346.4L356.68,345.8" stroke="#8c8c8c" stroke-width="0.5" fill="none"/><text x="306" y="348" font-size="4.3" font-family='"Liberation Sans", sans-serif' text-anchor="end" fill="#333">0</text><text x="306" y="339.2" font-size="4.3" font-family='"Liberation Sans", sans-serif' text-anchor="end" fill="#333">0.2</text><text x="306" y="330.4" font-size="4.3" font-family='"Liberation Sans", sans-serif' text-anchor="end" fill="#333">0.4</text><text x="306" y="321.6" font-size="4.3" font-family='"Liberation Sans", sans-serif' text-anchor="end" fill="#333">0.6</text><text x="306" y="312.8" font-size="4.3" font-family='"Liberation Sans", sans-serif' text-anchor="end" fill="#333">0.8</text><text x="306" y="304" font-size="4.3" font-family='"Liberation Sans", sans-serif' text-anchor="end" fill="#333">1</text><text x="316.6" y="353.4" font-size="4.3" font-family='"Liberation Sans", sans-serif' text-anchor="middle" fill="#333">-0.01</text><text x="333.3" y="353.4" font-size="4.3" font-family='"Liberation Sans", sans-serif' text-anchor="middle" fill="#333">0</text><text x="350" y="353.4" font-size="4.3" font-family='"Liberation Sans", sans-serif' text-anchor="middle" fill="#333">0.01</text></g><g><path d="M397.5,326.93L452.9,314.98M452.9,314.98L481.8,337.63M397.5,310.38L452.9,298.43M452.9,298.43L481.8,321.08M397.5,293.83L452.9,281.88M452.9,281.88L481.8,304.53M397.5,277.28L452.9,265.33M452.9,265.33L481.8,287.98M406.73,324.94L406.73,275.34M457.72,318.75L457.72,269.15M425.2,320.95L425.2,271.35M467.35,326.3L467.35,276.7M443.67,316.97L443.67,267.37M476.98,333.85L476.98,284.25M452.9,314.98L452.9,265.38" stroke="#f1f1f1" stroke-width="0.5" fill="none"/><path d="M397.5,277.33L397.5,326.93M397.5,326.93L426.4,349.58L481.8,337.63" stroke="#8a8a8a" stroke-width="0.5" fill="none"/><path d="M397.5,326.93L396.3,327.43M397.5,310.38L396.3,310.88M397.5,293.83L396.3,294.33" stroke="#8a8a8a" stroke-width="0.5" fill="none"/><polygon points="397.5,326.93 426.4,349.58 481.8,337.63 452.9,314.98" fill="#000004"/><g><circle r="7.56" transform="matrix(0.35 0.27 0.58 -0.13 439.65 331.99)" fill="#010106"/><circle r="6.7" transform="matrix(0.35 0.27 0.58 -0.13 439.65 331.41)" fill="#02020e"/><circle r="6.25" transform="matrix(0.35 0.27 0.58 -0.13 439.65 330.82)" fill="#060419"/><circle r="5.94" transform="matrix(0.35 0.27 0.58 -0.13 439.65 330.24)" fill="#0b0724"/><circle r="5.69" transform="matrix(0.35 0.27 0.58 -0.13 439.65 329.66)" fill="#10092d"/><circle r="5.48" transform="matrix(0.35 0.27 0.58 -0.13 439.65 329.08)" fill="#160b39"/><circle r="5.29" transform="matrix(0.35 0.27 0.58 -0.13 439.65 328.5)" fill="#1c0c43"/><circle r="5.13" transform="matrix(0.35 0.27 0.58 -0.13 439.65 327.91)" fill="#240c4f"/><circle r="4.98" transform="matrix(0.35 0.27 0.58 -0.13 439.65 327.33)" fill="#2b0b57"/><circle r="4.85" transform="matrix(0.35 0.27 0.58 -0.13 439.65 326.75)" fill="#340a5f"/><circle r="4.72" transform="matrix(0.35 0.27 0.58 -0.13 439.65 326.17)" fill="#3d0965"/><circle r="4.6" transform="matrix(0.35 0.27 0.58 -0.13 439.65 325.59)" fill="#440a68"/><circle r="4.49" transform="matrix(0.35 0.27 0.58 -0.13 439.65 325)" fill="#4c0c6b"/><circle r="4.38" transform="matrix(0.35 0.27 0.58 -0.13 439.65 324.42)" fill="#520e6d"/><circle r="4.28" transform="matrix(0.35 0.27 0.58 -0.13 439.65 323.84)" fill="#5a116e"/><circle r="4.18" transform="matrix(0.35 0.27 0.58 -0.13 439.65 323.26)" fill="#61136e"/><circle r="4.09" transform="matrix(0.35 0.27 0.58 -0.13 439.65 322.67)" fill="#69166e"/><circle r="4" transform="matrix(0.35 0.27 0.58 -0.13 439.65 322.09)" fill="#71196e"/><circle r="3.91" transform="matrix(0.35 0.27 0.58 -0.13 439.65 321.51)" fill="#771c6d"/><circle r="3.83" transform="matrix(0.35 0.27 0.58 -0.13 439.65 320.93)" fill="#7f1e6c"/><circle r="3.74" transform="matrix(0.35 0.27 0.58 -0.13 439.65 320.35)" fill="#85216b"/><circle r="3.66" transform="matrix(0.35 0.27 0.58 -0.13 439.65 319.76)" fill="#8d2369"/><circle r="3.58" transform="matrix(0.35 0.27 0.58 -0.13 439.65 319.18)" fill="#932667"/><circle r="3.5" transform="matrix(0.35 0.27 0.58 -0.13 439.65 318.6)" fill="#9b2964"/><circle r="3.43" transform="matrix(0.35 0.27 0.58 -0.13 439.65 318.02)" fill="#a32c61"/><circle r="3.35" transform="matrix(0.35 0.27 0.58 -0.13 439.65 317.44)" fill="#a92e5e"/><circle r="3.27" transform="matrix(0.35 0.27 0.58 -0.13 439.65 316.85)" fill="#b1325a"/><circle r="3.2" transform="matrix(0.35 0.27 0.58 -0.13 439.65 316.27)" fill="#b73557"/><circle r="3.12" transform="matrix(0.35 0.27 0.58 -0.13 439.65 315.69)" fill="#bf3952"/><circle r="3.05" transform="matrix(0.35 0.27 0.58 -0.13 439.65 315.11)" fill="#c43c4e"/><circle r="2.98" transform="matrix(0.35 0.27 0.58 -0.13 439.65 314.52)" fill="#cb4149"/><circle r="2.9" transform="matrix(0.35 0.27 0.58 -0.13 439.65 313.94)" fill="#d24644"/><circle r="2.83" transform="matrix(0.35 0.27 0.58 -0.13 439.65 313.36)" fill="#d74b3f"/><circle r="2.76" transform="matrix(0.35 0.27 0.58 -0.13 439.65 312.78)" fill="#dd513a"/><circle r="2.69" transform="matrix(0.35 0.27 0.58 -0.13 439.65 312.2)" fill="#e15635"/><circle r="2.61" transform="matrix(0.35 0.27 0.58 -0.13 439.65 311.61)" fill="#e65d2f"/><circle r="2.54" transform="matrix(0.35 0.27 0.58 -0.13 439.65 311.03)" fill="#ea632a"/><circle r="2.47" transform="matrix(0.35 0.27 0.58 -0.13 439.65 310.45)" fill="#ee6a24"/><circle r="2.39" transform="matrix(0.35 0.27 0.58 -0.13 439.65 309.87)" fill="#f1731d"/><circle r="2.31" transform="matrix(0.35 0.27 0.58 -0.13 439.65 309.29)" fill="#f47918"/><circle r="2.24" transform="matrix(0.35 0.27 0.58 -0.13 439.65 308.7)" fill="#f78212"/><circle r="2.16" transform="matrix(0.35 0.27 0.58 -0.13 439.65 308.12)" fill="#f8890c"/><circle r="2.08" transform="matrix(0.35 0.27 0.58 -0.13 439.65 307.54)" fill="#fa9207"/><circle r="2" transform="matrix(0.35 0.27 0.58 -0.13 439.65 306.96)" fill="#fb9906"/><circle r="1.91" transform="matrix(0.35 0.27 0.58 -0.13 439.65 306.37)" fill="#fca309"/><circle r="1.83" transform="matrix(0.35 0.27 0.58 -0.13 439.65 305.79)" fill="#fcac11"/><circle r="1.74" transform="matrix(0.35 0.27 0.58 -0.13 439.65 305.21)" fill="#fcb418"/><circle r="1.64" transform="matrix(0.35 0.27 0.58 -0.13 439.65 304.63)" fill="#fbbe23"/><circle r="1.55" transform="matrix(0.35 0.27 0.58 -0.13 439.65 304.05)" fill="#fac62d"/><circle r="1.44" transform="matrix(0.35 0.27 0.58 -0.13 439.65 303.46)" fill="#f8cf3a"/><circle r="1.33" transform="matrix(0.35 0.27 0.58 -0.13 439.65 302.88)" fill="#f6d746"/><circle r="1.21" transform="matrix(0.35 0.27 0.58 -0.13 439.65 302.3)" fill="#f4e156"/><circle r="1.07" transform="matrix(0.35 0.27 0.58 -0.13 439.65 301.72)" fill="#f2ea69"/><circle r="0.92" transform="matrix(0.35 0.27 0.58 -0.13 439.65 301.14)" fill="#f1f179"/><circle r="0.72" transform="matrix(0.35 0.27 0.58 -0.13 439.65 300.55)" fill="#f4f88e"/><circle r="0.44" transform="matrix(0.35 0.27 0.58 -0.13 439.65 299.97)" fill="#f9fc9d"/></g><polygon points="397.5,277.33 426.4,299.98 481.8,288.03 452.9,265.38" fill="#000004"/><g clip-path="url(#ct22)"><circle r="10.11" transform="matrix(0.35 0.27 0.58 -0.13 439.65 282.68)" fill="url(#rg22)"/></g><text x="394.8" y="327.53" font-size="4.3" font-family='"Liberation Sans", sans-serif' text-anchor="end" fill="#333">0</text><text x="394.8" y="310.98" font-size="4.3" font-family='"Liberation Sans", sans-serif' text-anchor="end" fill="#333">0.5</text><text x="394.8" y="294.43" font-size="4.3" font-family='"Liberation Sans", sans-serif' text-anchor="end" fill="#333">1</text><text x="398.82" y="335.9" font-size="4.3" font-family='"Liberation Sans", sans-serif' text-anchor="end" fill="#333">0.01</text><text x="408.45" y="343.45" font-size="4.3" font-family='"Liberation Sans", sans-serif' text-anchor="end" fill="#333">0</text><text x="418.08" y="351" font-size="4.3" font-family='"Liberation Sans", sans-serif' text-anchor="end" fill="#333">-0.01</text><text x="438.53" y="354.19" font-size="4.3" font-family='"Liberation Sans", sans-serif' text-anchor="start" fill="#333">-0.01</text><text x="457" y="350.2" font-size="4.3" font-family='"Liberation Sans", sans-serif' text-anchor="start" fill="#333">0</text><text x="475.47" y="346.22" font-size="4.3" font-family='"Liberation Sans", sans-serif' text-anchor="start" fill="#333">0.01</text><text x="380.5" y="348.7" font-size="5.6" font-family='"Liberation Serif", serif' text-anchor="start" fill="#333" font-style="italic" textLength="23.3" lengthAdjust="spacingAndGlyphs">sinθsinφ</text><text x="454.1" y="356.6" font-size="5.6" font-family='"Liberation Serif", serif' text-anchor="start" fill="#333" font-style="italic" textLength="24.3" lengthAdjust="spacingAndGlyphs">sinθcosφ</text><text transform="translate(386.6 303.9) rotate(-90)" font-size="6.2" font-family='"Liberation Serif", serif' font-style="italic" text-anchor="middle" textLength="41" lengthAdjust="spacingAndGlyphs" fill="#444">E (Normalized)</text><text x="379.6" y="276.2" font-size="12.5" font-family='"Liberation Serif", serif' text-anchor="start" fill="#222" stroke="#222" stroke-width="0.25">(i)</text><rect x="396.6" y="361.6" width="85.6" height="6.2" fill="url(#cb)"/><text x="413.9" y="375.9" font-size="5.4" font-family='"Liberation Sans", sans-serif' text-anchor="middle" fill="#333">0.2</text><text x="431" y="375.9" font-size="5.4" font-family='"Liberation Sans", sans-serif' text-anchor="middle" fill="#333">0.4</text><text x="448.1" y="375.9" font-size="5.4" font-family='"Liberation Sans", sans-serif' text-anchor="middle" fill="#333">0.6</text><text x="465.2" y="375.9" font-size="5.4" font-family='"Liberation Sans", sans-serif' text-anchor="middle" fill="#333">0.8</text><text x="482.3" y="375.9" font-size="5.4" font-family='"Liberation Sans", sans-serif' text-anchor="middle" fill="#333">1</text><path d="M501.5,346.4L501.5,302.4M518.2,346.4L518.2,302.4M534.9,346.4L534.9,302.4M492.2,337.6L543.8,337.6M492.2,328.8L543.8,328.8M492.2,320L543.8,320M492.2,311.2L543.8,311.2M492.2,302.4L543.8,302.4" stroke="#efefef" stroke-width="0.5" fill="none"/><path d="M493.2,346.4L493.2,346.4L493.45,346.4L493.7,346.4L493.95,346.4L494.2,346.4L494.45,346.4L494.7,346.4L494.95,346.4L495.2,346.4L495.45,346.4L495.7,346.4L495.95,346.4L496.2,346.4L496.45,346.4L496.7,346.4L496.95,346.4L497.2,346.4L497.45,346.4L497.7,346.4L497.95,346.4L498.2,346.4L498.45,346.4L498.7,346.4L498.95,346.4L499.2,346.4L499.45,346.4L499.7,346.4L499.95,346.4L500.2,346.4L500.45,346.4L500.7,346.4L500.95,346.4L501.2,346.4L501.45,346.4L501.7,346.4L501.95,346.4L502.2,346.4L502.45,346.4L502.7,346.4L502.95,346.4L503.2,346.4L503.45,346.4L503.7,346.4L503.95,346.4L504.2,346.4L504.45,346.4L504.7,346.4L504.95,346.4L505.2,346.4L505.45,346.4L505.7,346.4L505.95,346.4L506.2,346.4L506.45,346.4L506.7,346.4L506.95,346.4L507.2,346.4L507.45,346.4L507.7,346.4L507.95,346.4L508.2,346.4L508.45,346.4L508.7,346.4L508.95,346.4L509.2,346.4L509.45,346.4L509.7,346.4L509.95,346.4L510.2,346.4L510.45,346.4L510.7,346.4L510.95,346.4L511.2,346.4L511.45,346.4L511.7,346.4L511.95,346.4L512.2,346.4L512.45,346.4L512.7,346.4L512.95,346.4L513.2,346.4L513.45,346.4L513.7,346.39L513.95,346.37L514.2,346.32L514.45,346.22L514.7,346.01L514.95,345.6L515.2,344.87L515.45,343.66L515.7,341.77L515.95,339.02L516.2,335.3L516.45,330.64L516.7,325.23L516.95,319.44L517.2,313.8L517.45,308.88L517.7,305.18L517.95,303.02L518.2,302.4L518.45,303.02L518.7,305.18L518.95,308.88L519.2,313.8L519.45,319.44L519.7,325.23L519.95,330.64L520.2,335.3L520.45,339.02L520.7,341.77L520.95,343.66L521.2,344.87L521.45,345.6L521.7,346.01L521.95,346.22L522.2,346.32L522.45,346.37L522.7,346.39L522.95,346.4L523.2,346.4L523.45,346.4L523.7,346.4L523.95,346.4L524.2,346.4L524.45,346.4L524.7,346.4L524.95,346.4L525.2,346.4L525.45,346.4L525.7,346.4L525.95,346.4L526.2,346.4L526.45,346.4L526.7,346.4L526.95,346.4L527.2,346.4L527.45,346.4L527.7,346.4L527.95,346.4L528.2,346.4L528.45,346.4L528.7,346.4L528.95,346.4L529.2,346.4L529.45,346.4L529.7,346.4L529.95,346.4L530.2,346.4L530.45,346.4L530.7,346.4L530.95,346.4L531.2,346.4L531.45,346.4L531.7,346.4L531.95,346.4L532.2,346.4L532.45,346.4L532.7,346.4L532.95,346.4L533.2,346.4L533.45,346.4L533.7,346.4L533.95,346.4L534.2,346.4L534.45,346.4L534.7,346.4L534.95,346.4L535.2,346.4L535.45,346.4L535.7,346.4L535.95,346.4L536.2,346.4L536.45,346.4L536.7,346.4L536.95,346.4L537.2,346.4L537.45,346.4L537.7,346.4L537.95,346.4L538.2,346.4L538.45,346.4L538.7,346.4L538.95,346.4L539.2,346.4L539.45,346.4L539.7,346.4L539.95,346.4L540.2,346.4L540.45,346.4L540.7,346.4L540.95,346.4L541.2,346.4L541.45,346.4L541.7,346.4L541.95,346.4L542.2,346.4L542.45,346.4L542.7,346.4L542.95,346.4L543.2,346.4L543.2,346.4Z" fill="url(#g222)"/><path d="M492.2,302.4L492.2,346.4L543.8,346.4M492.2,346.4L493.2,346.4M492.2,337.6L493.2,337.6M492.2,328.8L493.2,328.8M492.2,320L493.2,320M492.2,311.2L493.2,311.2M492.2,302.4L493.2,302.4M501.5,346.4L501.5,345.4M518.2,346.4L518.2,345.4M534.9,346.4L534.9,345.4M494.82,346.4L494.82,345.8M498.16,346.4L498.16,345.8M501.5,346.4L501.5,345.8M504.84,346.4L504.84,345.8M508.18,346.4L508.18,345.8M511.52,346.4L511.52,345.8M514.86,346.4L514.86,345.8M518.2,346.4L518.2,345.8M521.54,346.4L521.54,345.8M524.88,346.4L524.88,345.8M528.22,346.4L528.22,345.8M531.56,346.4L531.56,345.8M534.9,346.4L534.9,345.8M538.24,346.4L538.24,345.8M541.58,346.4L541.58,345.8" stroke="#8c8c8c" stroke-width="0.5" fill="none"/><text x="490.9" y="348" font-size="4.3" font-family='"Liberation Sans", sans-serif' text-anchor="end" fill="#333">0</text><text x="490.9" y="339.2" font-size="4.3" font-family='"Liberation Sans", sans-serif' text-anchor="end" fill="#333">0.2</text><text x="490.9" y="330.4" font-size="4.3" font-family='"Liberation Sans", sans-serif' text-anchor="end" fill="#333">0.4</text><text x="490.9" y="321.6" font-size="4.3" font-family='"Liberation Sans", sans-serif' text-anchor="end" fill="#333">0.6</text><text x="490.9" y="312.8" font-size="4.3" font-family='"Liberation Sans", sans-serif' text-anchor="end" fill="#333">0.8</text><text x="490.9" y="304" font-size="4.3" font-family='"Liberation Sans", sans-serif' text-anchor="end" fill="#333">1</text><text x="501.5" y="353.4" font-size="4.3" font-family='"Liberation Sans", sans-serif' text-anchor="middle" fill="#333">-0.01</text><text x="518.2" y="353.4" font-size="4.3" font-family='"Liberation Sans", sans-serif' text-anchor="middle" fill="#333">0</text><text x="534.9" y="353.4" font-size="4.3" font-family='"Liberation Sans", sans-serif' text-anchor="middle" fill="#333">0.01</text></g></svg></body></html>
